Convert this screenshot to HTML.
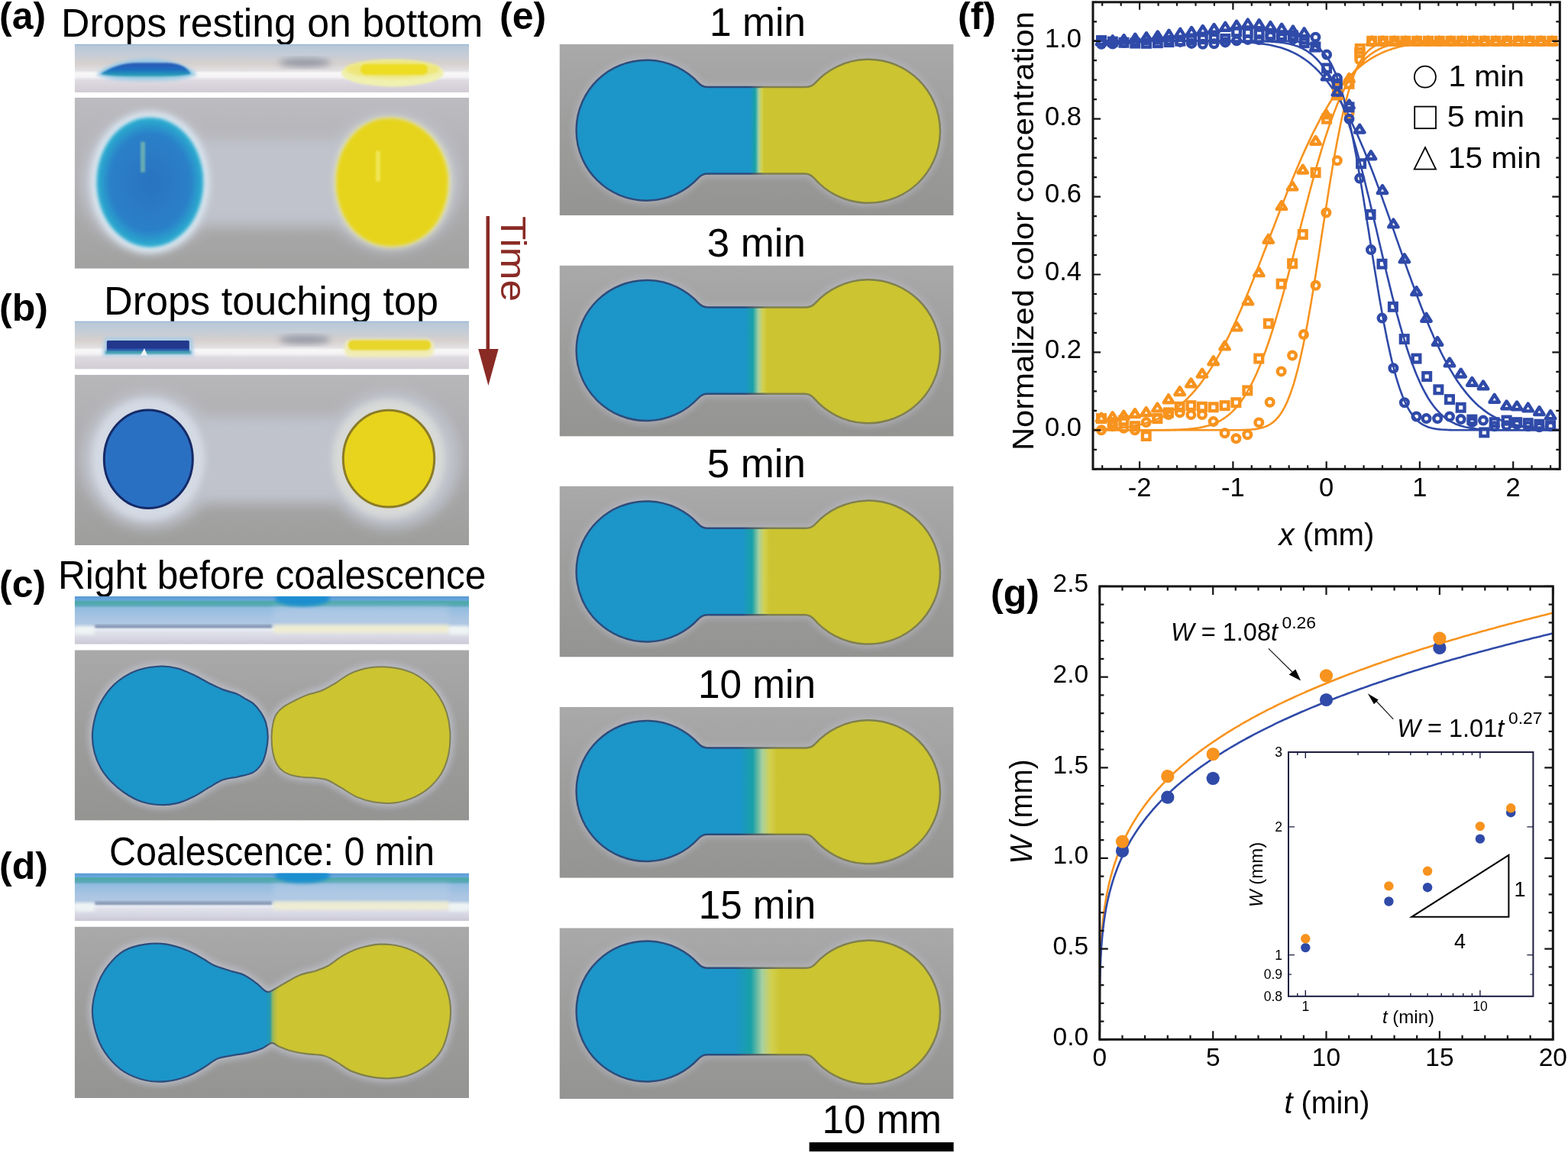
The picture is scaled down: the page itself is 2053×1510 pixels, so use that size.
<!DOCTYPE html>
<html><head><meta charset="utf-8"><title>Drop coalescence figure</title>
<style>html,body{margin:0;padding:0;background:#fff;overflow:hidden;width:2053px;height:1510px;} svg{display:block;} text{font-family:'Liberation Sans', Arial, sans-serif;}</style>
</head><body>
<svg width="2053" height="1510" viewBox="0 0 2053 1510">
<defs>
<filter id="bl05" x="-10%" y="-10%" width="120%" height="120%"><feGaussianBlur stdDeviation="0.7"/></filter>
<filter id="bl1" x="-20%" y="-20%" width="140%" height="140%"><feGaussianBlur stdDeviation="1"/></filter>
<filter id="bl2" x="-20%" y="-20%" width="140%" height="140%"><feGaussianBlur stdDeviation="2"/></filter>
<filter id="bl4" x="-30%" y="-30%" width="160%" height="160%"><feGaussianBlur stdDeviation="4"/></filter>
<filter id="bl8" x="-30%" y="-30%" width="160%" height="160%"><feGaussianBlur stdDeviation="8"/></filter>
<filter id="bl14" x="-40%" y="-40%" width="180%" height="180%"><feGaussianBlur stdDeviation="14"/></filter>
<linearGradient id="gBgE" x1="0" y1="0" x2="0" y2="1"><stop offset="0" stop-color="#a9a9aa"/><stop offset="0.5" stop-color="#9d9d9c"/><stop offset="1" stop-color="#949493"/></linearGradient>
<linearGradient id="gBgTa" x1="0" y1="0" x2="0" y2="1"><stop offset="0" stop-color="#bcbbc0"/><stop offset="0.5" stop-color="#b0afb2"/><stop offset="1" stop-color="#a1a1a0"/></linearGradient>
<linearGradient id="gBgTb" x1="0" y1="0" x2="0" y2="1"><stop offset="0" stop-color="#b7b6b9"/><stop offset="0.5" stop-color="#abaaad"/><stop offset="1" stop-color="#9e9e9c"/></linearGradient>
<linearGradient id="gSide" x1="0" y1="0" x2="0" y2="1">
<stop offset="0" stop-color="#b6c6d6"/><stop offset="0.18" stop-color="#c2ccd8"/>
<stop offset="0.4" stop-color="#d6d0ce"/><stop offset="0.55" stop-color="#e2e0e2"/>
<stop offset="0.6" stop-color="#f8f8f8"/><stop offset="0.68" stop-color="#f4f2f4"/><stop offset="0.75" stop-color="#dedae2"/>
<stop offset="1" stop-color="#d2ccd4"/></linearGradient>
<linearGradient id="gLensB" x1="0" y1="0" x2="0" y2="1">
<stop offset="0" stop-color="#2a58b4"/><stop offset="0.5" stop-color="#1e6cc0"/><stop offset="0.8" stop-color="#2290b8"/><stop offset="1" stop-color="#3aa8b8"/></linearGradient>
<clipPath id="clip57"><rect x="97.7" y="57.7" width="516.3" height="63.3"/></clipPath>
<clipPath id="clip420"><rect x="97.7" y="420.5" width="516.3" height="63.0"/></clipPath>
<linearGradient id="gSideC" x1="0" y1="0" x2="0" y2="1">
<stop offset="0" stop-color="#5a9ad4"/><stop offset="0.08" stop-color="#68a8dc"/>
<stop offset="0.11" stop-color="#4ca8a8"/><stop offset="0.19" stop-color="#5aaab8"/><stop offset="0.24" stop-color="#92bce0"/>
<stop offset="0.45" stop-color="#a8c4e2"/><stop offset="0.6" stop-color="#b2c8e2"/>
<stop offset="0.64" stop-color="#c8d4e6"/><stop offset="0.68" stop-color="#eef2f6"/><stop offset="0.74" stop-color="#e0e2ea"/>
<stop offset="0.85" stop-color="#d8d8e4"/><stop offset="1" stop-color="#ccc8d6"/></linearGradient>
<clipPath id="clip781"><rect x="97.7" y="781.0" width="516.3" height="62.799999999999955"/></clipPath>
<clipPath id="clip1143"><rect x="97.7" y="1143.4" width="516.3" height="62.59999999999991"/></clipPath>
<clipPath id="clip127"><rect x="97.7" y="127.7" width="516.3" height="224.10000000000002"/></clipPath>
<radialGradient id="gDropA" cx="0.5" cy="0.5" r="0.5"><stop offset="0" stop-color="#2a72c0"/><stop offset="0.75" stop-color="#2a80c8"/><stop offset="1" stop-color="#2ab0d0"/></radialGradient>
<clipPath id="clip490"><rect x="97.7" y="490.7" width="516.3" height="223.3"/></clipPath>
<clipPath id="eclip0"><rect x="732.5" y="58.0" width="516.0999999999999" height="224.0"/></clipPath>
<linearGradient id="gE0" gradientUnits="userSpaceOnUse" x1="982" y1="0" x2="1001" y2="0">
<stop offset="0" stop-color="#1c95c9"/><stop offset="0.35" stop-color="#18a0a8"/><stop offset="0.6" stop-color="#a8d0a0"/><stop offset="0.8" stop-color="#d2d050"/><stop offset="1" stop-color="#ccc430"/></linearGradient>
<linearGradient id="gE0s" gradientUnits="userSpaceOnUse" x1="982" y1="0" x2="1001" y2="0">
<stop offset="0" stop-color="#2c4c7c"/><stop offset="1" stop-color="#80804e"/></linearGradient>
<clipPath id="eclip1"><rect x="732.5" y="347.6" width="516.0999999999999" height="224.0"/></clipPath>
<linearGradient id="gE1" gradientUnits="userSpaceOnUse" x1="975" y1="0" x2="1005" y2="0">
<stop offset="0" stop-color="#1c95c9"/><stop offset="0.35" stop-color="#18a0a8"/><stop offset="0.6" stop-color="#a8d0a0"/><stop offset="0.8" stop-color="#d2d050"/><stop offset="1" stop-color="#ccc430"/></linearGradient>
<linearGradient id="gE1s" gradientUnits="userSpaceOnUse" x1="975" y1="0" x2="1005" y2="0">
<stop offset="0" stop-color="#2c4c7c"/><stop offset="1" stop-color="#80804e"/></linearGradient>
<clipPath id="eclip2"><rect x="732.5" y="636.6" width="516.0999999999999" height="224.0"/></clipPath>
<linearGradient id="gE2" gradientUnits="userSpaceOnUse" x1="972" y1="0" x2="1008" y2="0">
<stop offset="0" stop-color="#1c95c9"/><stop offset="0.35" stop-color="#18a0a8"/><stop offset="0.6" stop-color="#a8d0a0"/><stop offset="0.8" stop-color="#d2d050"/><stop offset="1" stop-color="#ccc430"/></linearGradient>
<linearGradient id="gE2s" gradientUnits="userSpaceOnUse" x1="972" y1="0" x2="1008" y2="0">
<stop offset="0" stop-color="#2c4c7c"/><stop offset="1" stop-color="#80804e"/></linearGradient>
<clipPath id="eclip3"><rect x="732.5" y="925.8" width="516.0999999999999" height="224.0"/></clipPath>
<linearGradient id="gE3" gradientUnits="userSpaceOnUse" x1="968" y1="0" x2="1018" y2="0">
<stop offset="0" stop-color="#1c95c9"/><stop offset="0.35" stop-color="#18a0a8"/><stop offset="0.6" stop-color="#a8d0a0"/><stop offset="0.8" stop-color="#d2d050"/><stop offset="1" stop-color="#ccc430"/></linearGradient>
<linearGradient id="gE3s" gradientUnits="userSpaceOnUse" x1="968" y1="0" x2="1018" y2="0">
<stop offset="0" stop-color="#2c4c7c"/><stop offset="1" stop-color="#80804e"/></linearGradient>
<clipPath id="eclip4"><rect x="732.5" y="1215.3" width="516.0999999999999" height="224.0"/></clipPath>
<linearGradient id="gE4" gradientUnits="userSpaceOnUse" x1="962" y1="0" x2="1022" y2="0">
<stop offset="0" stop-color="#1c95c9"/><stop offset="0.35" stop-color="#18a0a8"/><stop offset="0.6" stop-color="#a8d0a0"/><stop offset="0.8" stop-color="#d2d050"/><stop offset="1" stop-color="#ccc430"/></linearGradient>
<linearGradient id="gE4s" gradientUnits="userSpaceOnUse" x1="962" y1="0" x2="1022" y2="0">
<stop offset="0" stop-color="#2c4c7c"/><stop offset="1" stop-color="#80804e"/></linearGradient>
<linearGradient id="gD" gradientUnits="userSpaceOnUse" x1="348" y1="0" x2="364" y2="0"><stop offset="0" stop-color="#1c95c9"/><stop offset="0.35" stop-color="#2a9aac"/><stop offset="0.6" stop-color="#a0b858"/><stop offset="1" stop-color="#ccc430"/></linearGradient>
<linearGradient id="gDs" gradientUnits="userSpaceOnUse" x1="348" y1="0" x2="364" y2="0"><stop offset="0" stop-color="#2c4c7c"/><stop offset="1" stop-color="#80804e"/></linearGradient>
<clipPath id="clip851"><rect x="97.7" y="851.3" width="516.3" height="223.29999999999995"/></clipPath>
<clipPath id="clip1213"><rect x="97.7" y="1213.6" width="516.3" height="224.4000000000001"/></clipPath>
<clipPath id="fclip"><rect x="1431.0" y="2.8" width="611.3" height="611.5"/></clipPath>
<clipPath id="gclip"><rect x="1439.8" y="767.9" width="593.5" height="593.4"/></clipPath>
</defs>
<rect width="2053" height="1510" fill="#fff"/>
<text x="-1" y="37.5" font-size="50" text-anchor="start" font-weight="bold" font-style="normal" fill="#000" >(a)</text>
<text x="-1" y="420.4" font-size="50" text-anchor="start" font-weight="bold" font-style="normal" fill="#000" >(b)</text>
<text x="-1" y="782" font-size="50" text-anchor="start" font-weight="bold" font-style="normal" fill="#000" >(c)</text>
<text x="-1" y="1150.5" font-size="50" text-anchor="start" font-weight="bold" font-style="normal" fill="#000" >(d)</text>
<text x="654" y="38" font-size="50" text-anchor="start" font-weight="bold" font-style="normal" fill="#000" >(e)</text>
<text x="1254" y="38" font-size="50" text-anchor="start" font-weight="bold" font-style="normal" fill="#000" >(f)</text>
<text x="1297" y="794.4" font-size="50" text-anchor="start" font-weight="bold" font-style="normal" fill="#000" >(g)</text>
<text x="80" y="47.5" font-size="51" text-anchor="start" font-weight="normal" font-style="normal" fill="#000" textLength="552.5" lengthAdjust="spacingAndGlyphs" >Drops resting on bottom</text>
<text x="136" y="411.6" font-size="51" text-anchor="start" font-weight="normal" font-style="normal" fill="#000" textLength="438" lengthAdjust="spacingAndGlyphs" >Drops touching top</text>
<text x="76" y="770.5" font-size="51" text-anchor="start" font-weight="normal" font-style="normal" fill="#000" textLength="560.5" lengthAdjust="spacingAndGlyphs" >Right before coalescence</text>
<text x="143" y="1132.8" font-size="51" text-anchor="start" font-weight="normal" font-style="normal" fill="#000" textLength="426" lengthAdjust="spacingAndGlyphs" >Coalescence: 0 min</text>
<text x="929" y="46.9" font-size="51" text-anchor="start" font-weight="normal" font-style="normal" fill="#000" textLength="126" lengthAdjust="spacingAndGlyphs" >1 min</text>
<text x="925.7" y="335.9" font-size="51" text-anchor="start" font-weight="normal" font-style="normal" fill="#000" textLength="129.3" lengthAdjust="spacingAndGlyphs" >3 min</text>
<text x="925.7" y="624.9" font-size="51" text-anchor="start" font-weight="normal" font-style="normal" fill="#000" textLength="129.3" lengthAdjust="spacingAndGlyphs" >5 min</text>
<text x="914" y="913.9" font-size="51" text-anchor="start" font-weight="normal" font-style="normal" fill="#000" textLength="154" lengthAdjust="spacingAndGlyphs" >10 min</text>
<text x="914.7" y="1202.9" font-size="51" text-anchor="start" font-weight="normal" font-style="normal" fill="#000" textLength="153.6" lengthAdjust="spacingAndGlyphs" >15 min</text>
<text x="1076.6" y="1484" font-size="51" text-anchor="start" font-weight="normal" font-style="normal" fill="#000" textLength="156.4" lengthAdjust="spacingAndGlyphs" >10 mm</text>
<rect x="1059.6" y="1496" width="189" height="12" fill="#000"/>
<rect x="636.5" y="283" width="4.5" height="180" fill="#8a2a25"/>
<polygon points="626.2,457 652.6,457 639.4,505" fill="#8a2a25"/>
<text transform="translate(656.3,283) rotate(90)" font-size="46" fill="#8a2a25" textLength="112" lengthAdjust="spacingAndGlyphs">Time</text>
<g clip-path="url(#clip57)">
<rect x="97.7" y="57.7" width="516.3" height="63.3" fill="url(#gSide)"/>
<rect x="97.7" y="57.7" width="516.3" height="1.6" fill="#8ab4dc" opacity="0.7"/>
<ellipse cx="399" cy="82.2" rx="34" ry="5.5" fill="#7a8294" opacity="0.75" filter="url(#bl4)"/>
<path d="M126,97.7 C140,83.7 165,76.7 192,76.7 C220,76.7 245,83.7 258,97.7 C245,104.7 220,105.7 192,105.7 C165,105.7 140,104.7 126,97.7 Z" fill="#9ccbe6" filter="url(#bl2)"/>
<path d="M132,96.7 C145,87.7 160,82.2 180,82.2 L215,82.2 C235,82.2 245,87.7 250,96.7 C240,99.7 220,100.2 192,100.2 C165,100.2 142,99.7 132,96.7 Z" fill="url(#gLensB)" filter="url(#bl1)"/>
<ellipse cx="514" cy="95.7" rx="67" ry="17.7" fill="#f0f0b0" filter="url(#bl1)"/>
<ellipse cx="514" cy="90.7" rx="62" ry="12" fill="#eee67a" filter="url(#bl2)"/>
<rect x="472" y="84.2" width="88" height="13.5" rx="6.5" fill="#ecdc24" filter="url(#bl1)"/>
</g>
<g clip-path="url(#clip420)">
<rect x="97.7" y="420.5" width="516.3" height="63.0" fill="url(#gSide)"/>
<rect x="97.7" y="420.5" width="516.3" height="1.6" fill="#8ab4dc" opacity="0.7"/>
<ellipse cx="399" cy="445.0" rx="34" ry="5.5" fill="#7a8294" opacity="0.75" filter="url(#bl4)"/>
<path d="M134,466.5 L137,441.5 L252,441.5 L254,466.5 Z" fill="#a8cce6" opacity="0.9" filter="url(#bl2)"/>
<rect x="139.8" y="446.0" width="108" height="13.5" rx="1.5" fill="#22388c" filter="url(#bl05)"/>
<rect x="139.8" y="456.5" width="108" height="4" fill="#2a58b0" filter="url(#bl05)"/>
<rect x="138" y="459.5" width="112" height="4" fill="#3a9aac" filter="url(#bl1)"/>
<path d="M184,465.5 L189,456.0 L193,465.5 Z" fill="#eef2f2" filter="url(#bl05)"/>
<rect x="451" y="444.5" width="117" height="23" rx="9" fill="#f0ecb0" filter="url(#bl2)"/>
<rect x="456" y="445.5" width="108" height="13" rx="6" fill="#e8d62c" filter="url(#bl1)"/>
</g>
<g clip-path="url(#clip781)">
<rect x="97.7" y="781.0" width="516.3" height="62.799999999999955" fill="url(#gSideC)"/>
<rect x="358" y="795.0" width="230" height="22" fill="#b4cce6" opacity="0.6" filter="url(#bl4)"/>
<ellipse cx="396" cy="784.0" rx="36" ry="10" fill="#168cd0" opacity="0.9" filter="url(#bl2)"/>
<rect x="124" y="818.0" width="232" height="5" fill="#8c9cb8" filter="url(#bl1)"/>
<rect x="124" y="823.5" width="232" height="3" fill="#e4e8f2" filter="url(#bl1)"/>
<rect x="358" y="818.0" width="230" height="11" fill="#eeecd2" filter="url(#bl2)"/>
<rect x="97.7" y="820.0" width="26" height="11" fill="#eef4f4" filter="url(#bl2)"/>
<rect x="588" y="820.0" width="26" height="11" fill="#eef4f4" filter="url(#bl2)"/>
</g>
<g clip-path="url(#clip1143)">
<rect x="97.7" y="1143.4" width="516.3" height="62.59999999999991" fill="url(#gSideC)"/>
<rect x="358" y="1157.4" width="230" height="22" fill="#b4cce6" opacity="0.6" filter="url(#bl4)"/>
<ellipse cx="396" cy="1146.4" rx="36" ry="10" fill="#168cd0" opacity="0.9" filter="url(#bl2)"/>
<rect x="124" y="1180.4" width="232" height="5" fill="#8c9cb8" filter="url(#bl1)"/>
<rect x="124" y="1185.9" width="232" height="3" fill="#e4e8f2" filter="url(#bl1)"/>
<rect x="358" y="1180.4" width="230" height="11" fill="#eeecd2" filter="url(#bl2)"/>
<rect x="97.7" y="1182.4" width="26" height="11" fill="#eef4f4" filter="url(#bl2)"/>
<rect x="588" y="1182.4" width="26" height="11" fill="#eef4f4" filter="url(#bl2)"/>
</g>
<g clip-path="url(#clip127)">
<rect x="97.7" y="127.7" width="516.3" height="224.10000000000002" fill="url(#gBgTa)"/>
<g filter="url(#bl8)" fill="#c0c3cc"><circle cx="196" cy="238.7" r="90"/><circle cx="512" cy="238.7" r="90"/><rect x="196" y="181.7" width="316" height="114"/></g>
<ellipse cx="196.4" cy="238.7" rx="78" ry="93" fill="#dae6f0" filter="url(#bl4)"/>
<ellipse cx="196.4" cy="238.7" rx="70" ry="85" fill="url(#gDropA)" filter="url(#bl2)"/>
<rect x="184" y="185.7" width="6" height="40" fill="#74b8b0" opacity="0.8" filter="url(#bl1)"/>
<path d="M438,237.7 C438,187.7 470,153.7 510,153.7 C560,153.7 590,197.7 590,237.7 C590,287.7 560,323.7 512,323.7 C468,323.7 438,287.7 438,237.7 Z" fill="#e6e8c0" filter="url(#bl4)"/>
<path d="M440,237.7 C440,189.7 472,154.7 510,154.7 C556,154.7 587,197.7 587,237.7 C587,285.7 558,322.7 512,322.7 C470,322.7 440,285.7 440,237.7 Z" fill="#e6d41c" filter="url(#bl2)"/>
<rect x="492" y="197.7" width="6" height="40" fill="#f2e860" opacity="0.8" filter="url(#bl1)"/>
</g>
<g clip-path="url(#clip490)">
<rect x="97.7" y="490.7" width="516.3" height="223.3" fill="url(#gBgTb)"/>
<g filter="url(#bl8)" fill="#c0c3cc"><circle cx="196" cy="601.7" r="90"/><circle cx="512" cy="601.7" r="90"/><rect x="196" y="544.7" width="316" height="114"/></g>
<ellipse cx="194.3" cy="601.3" rx="74" ry="80" fill="#d4dae4" filter="url(#bl4)"/>
<ellipse cx="509" cy="600.7" rx="74" ry="78" fill="#d8dad8" filter="url(#bl4)"/>
<ellipse cx="194.3" cy="601.3" rx="58" ry="64.3" fill="#2a70c2" stroke="#142a68" stroke-width="3" filter="url(#bl05)"/>
<ellipse cx="509" cy="600.7" rx="59.7" ry="63.4" fill="#e8d41e" stroke="#8c7c28" stroke-width="3" filter="url(#bl05)"/>
</g>
<g clip-path="url(#eclip0)">
<rect x="732.5" y="58.0" width="516.0999999999999" height="224.0" fill="url(#gBgE)"/>
<path d="M914.7,108.8 A16,16 0 0 0 926.6,114.0 L1055.4,114.0 A16,16 0 0 0 1067.3,108.7 A94,94 0 1 1 1065.6,233.0 A16,16 0 0 0 1053.5,227.4 L926.4,227.4 A16,16 0 0 0 914.6,232.6 A92,92 0 1 1 914.7,108.8 Z" fill="none" stroke="#bcbcc6" stroke-width="8" filter="url(#bl4)" opacity="0.7"/>
<path d="M914.7,108.8 A16,16 0 0 0 926.6,114.0 L1055.4,114.0 A16,16 0 0 0 1067.3,108.7 A94,94 0 1 1 1065.6,233.0 A16,16 0 0 0 1053.5,227.4 L926.4,227.4 A16,16 0 0 0 914.6,232.6 A92,92 0 1 1 914.7,108.8 Z" fill="url(#gE0)" stroke="url(#gE0s)" stroke-width="2.5"/>
</g>
<g clip-path="url(#eclip1)">
<rect x="732.5" y="347.6" width="516.0999999999999" height="224.0" fill="url(#gBgE)"/>
<path d="M914.7,397.2 A16,16 0 0 0 926.6,402.4 L1055.4,402.4 A16,16 0 0 0 1067.3,397.1 A94,94 0 1 1 1065.6,521.4 A16,16 0 0 0 1053.5,515.8 L926.4,515.8 A16,16 0 0 0 914.6,521.0 A92,92 0 1 1 914.7,397.2 Z" fill="none" stroke="#bcbcc6" stroke-width="8" filter="url(#bl4)" opacity="0.7"/>
<path d="M914.7,397.2 A16,16 0 0 0 926.6,402.4 L1055.4,402.4 A16,16 0 0 0 1067.3,397.1 A94,94 0 1 1 1065.6,521.4 A16,16 0 0 0 1053.5,515.8 L926.4,515.8 A16,16 0 0 0 914.6,521.0 A92,92 0 1 1 914.7,397.2 Z" fill="url(#gE1)" stroke="url(#gE1s)" stroke-width="2.5"/>
</g>
<g clip-path="url(#eclip2)">
<rect x="732.5" y="636.6" width="516.0999999999999" height="224.0" fill="url(#gBgE)"/>
<path d="M914.7,686.6 A16,16 0 0 0 926.6,691.8 L1055.4,691.8 A16,16 0 0 0 1067.3,686.5 A94,94 0 1 1 1065.6,810.8 A16,16 0 0 0 1053.5,805.2 L926.4,805.2 A16,16 0 0 0 914.6,810.4 A92,92 0 1 1 914.7,686.6 Z" fill="none" stroke="#bcbcc6" stroke-width="8" filter="url(#bl4)" opacity="0.7"/>
<path d="M914.7,686.6 A16,16 0 0 0 926.6,691.8 L1055.4,691.8 A16,16 0 0 0 1067.3,686.5 A94,94 0 1 1 1065.6,810.8 A16,16 0 0 0 1053.5,805.2 L926.4,805.2 A16,16 0 0 0 914.6,810.4 A92,92 0 1 1 914.7,686.6 Z" fill="url(#gE2)" stroke="url(#gE2s)" stroke-width="2.5"/>
</g>
<g clip-path="url(#eclip3)">
<rect x="732.5" y="925.8" width="516.0999999999999" height="224.0" fill="url(#gBgE)"/>
<path d="M914.7,974.2 A16,16 0 0 0 926.6,979.4 L1055.4,979.4 A16,16 0 0 0 1067.3,974.1 A94,94 0 1 1 1065.6,1098.4 A16,16 0 0 0 1053.5,1092.8 L926.4,1092.8 A16,16 0 0 0 914.6,1098.0 A92,92 0 1 1 914.7,974.2 Z" fill="none" stroke="#bcbcc6" stroke-width="8" filter="url(#bl4)" opacity="0.7"/>
<path d="M914.7,974.2 A16,16 0 0 0 926.6,979.4 L1055.4,979.4 A16,16 0 0 0 1067.3,974.1 A94,94 0 1 1 1065.6,1098.4 A16,16 0 0 0 1053.5,1092.8 L926.4,1092.8 A16,16 0 0 0 914.6,1098.0 A92,92 0 1 1 914.7,974.2 Z" fill="url(#gE3)" stroke="url(#gE3s)" stroke-width="2.5"/>
</g>
<g clip-path="url(#eclip4)">
<rect x="732.5" y="1215.3" width="516.0999999999999" height="224.0" fill="url(#gBgE)"/>
<path d="M914.7,1262.6 A16,16 0 0 0 926.6,1267.8 L1055.4,1267.8 A16,16 0 0 0 1067.3,1262.5 A94,94 0 1 1 1065.6,1386.8 A16,16 0 0 0 1053.5,1381.2 L926.4,1381.2 A16,16 0 0 0 914.6,1386.4 A92,92 0 1 1 914.7,1262.6 Z" fill="none" stroke="#bcbcc6" stroke-width="8" filter="url(#bl4)" opacity="0.7"/>
<path d="M914.7,1262.6 A16,16 0 0 0 926.6,1267.8 L1055.4,1267.8 A16,16 0 0 0 1067.3,1262.5 A94,94 0 1 1 1065.6,1386.8 A16,16 0 0 0 1053.5,1381.2 L926.4,1381.2 A16,16 0 0 0 914.6,1386.4 A92,92 0 1 1 914.7,1262.6 Z" fill="url(#gE4)" stroke="url(#gE4s)" stroke-width="2.5"/>
</g>
<g clip-path="url(#clip851)">
<rect x="97.7" y="851.3" width="516.3" height="223.29999999999995" fill="url(#gBgE)"/>
<path d="M211.3,872.5 C219.4,872.3 225.2,873.4 232.1,875.3 C239.0,877.1 246.0,880.4 253.0,883.6 C260.0,886.9 267.4,891.5 273.9,894.8 C280.4,898.0 285.9,900.8 291.9,903.1 C297.9,905.4 305.3,906.8 310.0,908.7 C314.7,910.6 316.6,912.5 320.1,914.6 C323.7,916.7 327.8,918.2 331.3,921.2 C334.8,924.2 338.2,928.1 341.0,932.3 C343.8,936.5 346.4,940.9 348.0,946.2 C349.6,951.5 350.7,957.8 350.7,964.3 C350.7,970.8 349.4,979.2 348.0,985.2 C346.6,991.2 345.2,996.1 342.4,1000.5 C339.6,1004.9 336.4,1008.8 331.3,1011.6 C326.2,1014.4 318.6,1015.6 312.0,1017.2 C305.4,1018.8 298.2,1019.0 291.9,1021.3 C285.5,1023.6 280.4,1027.4 273.9,1031.1 C267.4,1034.8 260.0,1040.1 253.0,1043.6 C246.0,1047.1 239.5,1050.2 232.1,1051.9 C224.7,1053.6 216.6,1054.5 208.5,1054.0 C200.4,1053.5 191.1,1051.9 183.4,1049.2 C175.8,1046.5 168.8,1042.2 162.6,1038.0 C156.3,1033.8 151.0,1029.4 145.9,1024.1 C140.8,1018.8 135.7,1012.5 132.0,1006.0 C128.3,999.5 125.4,992.2 123.6,985.2 C121.8,978.2 120.9,971.3 120.9,964.3 C120.9,957.3 122.0,950.3 123.6,943.4 C125.2,936.5 127.1,929.5 130.6,922.6 C134.1,915.7 139.2,907.7 144.5,901.7 C149.8,895.7 156.1,890.6 162.6,886.4 C169.1,882.2 175.3,879.0 183.4,876.7 C191.5,874.4 203.2,872.7 211.3,872.5 Z" fill="none" stroke="#c4c6d2" stroke-width="9" filter="url(#bl4)" opacity="0.8"/>
<path d="M511.3,873.9 C520.6,874.9 531.0,877.4 539.1,880.9 C547.2,884.4 553.9,889.5 559.9,894.8 C565.9,900.1 571.0,906.4 575.2,912.9 C579.4,919.4 582.7,926.3 585.0,933.7 C587.3,941.1 588.7,948.8 589.2,957.4 C589.7,966.0 589.4,976.4 587.8,985.2 C586.2,994.0 583.3,1002.8 579.4,1010.2 C575.5,1017.6 570.1,1024.1 564.1,1029.7 C558.1,1035.3 550.9,1040.0 543.3,1043.6 C535.6,1047.2 527.0,1050.0 518.2,1051.2 C509.4,1052.4 499.0,1051.8 490.4,1050.5 C481.8,1049.2 474.2,1046.8 466.8,1043.6 C459.4,1040.4 452.4,1034.8 445.9,1031.1 C439.4,1027.4 433.6,1023.4 427.8,1021.3 C422.0,1019.2 416.1,1019.2 411.1,1018.6 C406.1,1018.0 402.5,1018.4 398.0,1017.9 C393.5,1017.4 388.5,1017.1 384.0,1015.8 C379.5,1014.5 374.6,1012.8 371.0,1010.2 C367.4,1007.7 364.6,1004.7 362.3,1000.5 C360.0,996.3 358.3,991.2 357.2,985.2 C356.1,979.2 355.5,970.8 355.6,964.3 C355.7,957.8 356.6,951.1 357.7,946.2 C358.8,941.3 359.6,938.6 361.9,935.1 C364.2,931.6 367.4,928.4 371.6,925.4 C375.8,922.4 381.8,919.5 386.9,917.0 C392.0,914.5 396.3,912.2 402.0,910.1 C407.7,908.0 414.8,907.0 420.9,904.5 C427.0,902.0 432.6,898.5 438.9,894.8 C445.1,891.1 451.0,885.7 458.4,882.3 C465.8,878.9 474.6,876.0 483.4,874.6 C492.2,873.2 502.0,872.9 511.3,873.9 Z" fill="none" stroke="#c4c6d2" stroke-width="9" filter="url(#bl4)" opacity="0.8"/>
<path d="M211.3,872.5 C219.4,872.3 225.2,873.4 232.1,875.3 C239.0,877.1 246.0,880.4 253.0,883.6 C260.0,886.9 267.4,891.5 273.9,894.8 C280.4,898.0 285.9,900.8 291.9,903.1 C297.9,905.4 305.3,906.8 310.0,908.7 C314.7,910.6 316.6,912.5 320.1,914.6 C323.7,916.7 327.8,918.2 331.3,921.2 C334.8,924.2 338.2,928.1 341.0,932.3 C343.8,936.5 346.4,940.9 348.0,946.2 C349.6,951.5 350.7,957.8 350.7,964.3 C350.7,970.8 349.4,979.2 348.0,985.2 C346.6,991.2 345.2,996.1 342.4,1000.5 C339.6,1004.9 336.4,1008.8 331.3,1011.6 C326.2,1014.4 318.6,1015.6 312.0,1017.2 C305.4,1018.8 298.2,1019.0 291.9,1021.3 C285.5,1023.6 280.4,1027.4 273.9,1031.1 C267.4,1034.8 260.0,1040.1 253.0,1043.6 C246.0,1047.1 239.5,1050.2 232.1,1051.9 C224.7,1053.6 216.6,1054.5 208.5,1054.0 C200.4,1053.5 191.1,1051.9 183.4,1049.2 C175.8,1046.5 168.8,1042.2 162.6,1038.0 C156.3,1033.8 151.0,1029.4 145.9,1024.1 C140.8,1018.8 135.7,1012.5 132.0,1006.0 C128.3,999.5 125.4,992.2 123.6,985.2 C121.8,978.2 120.9,971.3 120.9,964.3 C120.9,957.3 122.0,950.3 123.6,943.4 C125.2,936.5 127.1,929.5 130.6,922.6 C134.1,915.7 139.2,907.7 144.5,901.7 C149.8,895.7 156.1,890.6 162.6,886.4 C169.1,882.2 175.3,879.0 183.4,876.7 C191.5,874.4 203.2,872.7 211.3,872.5 Z" fill="#1c95c9" stroke="#2c4c7c" stroke-width="2.2"/>
<path d="M511.3,873.9 C520.6,874.9 531.0,877.4 539.1,880.9 C547.2,884.4 553.9,889.5 559.9,894.8 C565.9,900.1 571.0,906.4 575.2,912.9 C579.4,919.4 582.7,926.3 585.0,933.7 C587.3,941.1 588.7,948.8 589.2,957.4 C589.7,966.0 589.4,976.4 587.8,985.2 C586.2,994.0 583.3,1002.8 579.4,1010.2 C575.5,1017.6 570.1,1024.1 564.1,1029.7 C558.1,1035.3 550.9,1040.0 543.3,1043.6 C535.6,1047.2 527.0,1050.0 518.2,1051.2 C509.4,1052.4 499.0,1051.8 490.4,1050.5 C481.8,1049.2 474.2,1046.8 466.8,1043.6 C459.4,1040.4 452.4,1034.8 445.9,1031.1 C439.4,1027.4 433.6,1023.4 427.8,1021.3 C422.0,1019.2 416.1,1019.2 411.1,1018.6 C406.1,1018.0 402.5,1018.4 398.0,1017.9 C393.5,1017.4 388.5,1017.1 384.0,1015.8 C379.5,1014.5 374.6,1012.8 371.0,1010.2 C367.4,1007.7 364.6,1004.7 362.3,1000.5 C360.0,996.3 358.3,991.2 357.2,985.2 C356.1,979.2 355.5,970.8 355.6,964.3 C355.7,957.8 356.6,951.1 357.7,946.2 C358.8,941.3 359.6,938.6 361.9,935.1 C364.2,931.6 367.4,928.4 371.6,925.4 C375.8,922.4 381.8,919.5 386.9,917.0 C392.0,914.5 396.3,912.2 402.0,910.1 C407.7,908.0 414.8,907.0 420.9,904.5 C427.0,902.0 432.6,898.5 438.9,894.8 C445.1,891.1 451.0,885.7 458.4,882.3 C465.8,878.9 474.6,876.0 483.4,874.6 C492.2,873.2 502.0,872.9 511.3,873.9 Z" fill="#ccc430" stroke="#80804e" stroke-width="2"/>
</g>
<g clip-path="url(#clip1213)">
<rect x="97.7" y="1213.6" width="516.3" height="224.4000000000001" fill="url(#gBgE)"/>
<path d="M355.0,1297.9 C359.0,1296.3 365.4,1291.7 371.7,1288.2 C378.0,1284.7 385.7,1279.8 392.6,1277.0 C399.6,1274.2 407.1,1273.6 413.4,1271.5 C419.6,1269.4 424.3,1267.8 430.1,1264.5 C435.9,1261.2 441.7,1255.7 448.2,1252.0 C454.7,1248.3 461.0,1244.8 469.1,1242.3 C477.2,1239.8 487.6,1237.2 496.9,1236.7 C506.2,1236.2 515.4,1237.0 524.7,1239.5 C534.0,1242.0 544.4,1246.4 552.5,1252.0 C560.6,1257.6 567.8,1265.2 573.4,1272.9 C579.0,1280.6 583.1,1289.1 585.9,1297.9 C588.7,1306.7 590.1,1316.4 590.1,1325.7 C590.1,1335.0 588.0,1345.2 585.9,1353.5 C583.8,1361.8 582.0,1368.8 577.6,1375.8 C573.2,1382.8 567.1,1389.6 559.5,1395.2 C551.9,1400.8 542.1,1406.4 531.7,1409.2 C521.3,1412.0 508.5,1412.8 496.9,1411.9 C485.3,1411.0 471.4,1407.1 462.1,1403.6 C452.8,1400.1 447.6,1394.6 441.3,1391.1 C435.1,1387.6 431.6,1384.6 424.6,1382.7 C417.6,1380.8 407.1,1381.1 399.5,1379.9 C391.9,1378.8 384.5,1377.4 378.7,1375.8 C372.9,1374.2 368.7,1371.8 364.8,1370.2 C360.9,1368.6 359.1,1365.5 355.5,1366.0 C351.9,1366.5 348.4,1370.9 343.4,1373.0 C338.4,1375.1 332.2,1377.0 325.3,1378.6 C318.4,1380.2 308.6,1381.3 301.7,1382.7 C294.8,1384.1 289.4,1384.4 283.6,1386.9 C277.8,1389.5 273.2,1394.3 266.9,1398.0 C260.6,1401.7 254.1,1406.2 246.0,1409.2 C237.9,1412.2 227.5,1415.2 218.2,1416.1 C208.9,1417.0 199.7,1416.8 190.4,1414.7 C181.1,1412.6 170.7,1408.7 162.6,1403.6 C154.5,1398.5 147.5,1391.5 141.7,1384.1 C135.9,1376.7 131.3,1369.1 127.8,1359.1 C124.3,1349.1 120.9,1335.9 120.9,1324.3 C120.9,1312.7 124.3,1299.5 127.8,1289.5 C131.3,1279.5 135.9,1271.9 141.7,1264.5 C147.5,1257.1 154.5,1249.6 162.6,1245.0 C170.7,1240.4 181.1,1238.1 190.4,1236.7 C199.7,1235.3 208.9,1235.3 218.2,1236.7 C227.5,1238.1 237.9,1241.8 246.0,1245.0 C254.1,1248.2 261.1,1253.0 266.9,1256.2 C272.7,1259.5 275.0,1262.0 280.8,1264.5 C286.6,1267.0 295.2,1269.4 301.7,1271.5 C308.2,1273.6 313.9,1274.2 319.7,1277.0 C325.5,1279.8 331.8,1284.7 336.4,1288.2 C341.0,1291.7 344.5,1296.3 347.6,1297.9 C350.7,1299.5 351.0,1299.5 355.0,1297.9 Z" fill="none" stroke="#c4c6d2" stroke-width="9" filter="url(#bl4)" opacity="0.8"/>
<path d="M355.0,1297.9 C359.0,1296.3 365.4,1291.7 371.7,1288.2 C378.0,1284.7 385.7,1279.8 392.6,1277.0 C399.6,1274.2 407.1,1273.6 413.4,1271.5 C419.6,1269.4 424.3,1267.8 430.1,1264.5 C435.9,1261.2 441.7,1255.7 448.2,1252.0 C454.7,1248.3 461.0,1244.8 469.1,1242.3 C477.2,1239.8 487.6,1237.2 496.9,1236.7 C506.2,1236.2 515.4,1237.0 524.7,1239.5 C534.0,1242.0 544.4,1246.4 552.5,1252.0 C560.6,1257.6 567.8,1265.2 573.4,1272.9 C579.0,1280.6 583.1,1289.1 585.9,1297.9 C588.7,1306.7 590.1,1316.4 590.1,1325.7 C590.1,1335.0 588.0,1345.2 585.9,1353.5 C583.8,1361.8 582.0,1368.8 577.6,1375.8 C573.2,1382.8 567.1,1389.6 559.5,1395.2 C551.9,1400.8 542.1,1406.4 531.7,1409.2 C521.3,1412.0 508.5,1412.8 496.9,1411.9 C485.3,1411.0 471.4,1407.1 462.1,1403.6 C452.8,1400.1 447.6,1394.6 441.3,1391.1 C435.1,1387.6 431.6,1384.6 424.6,1382.7 C417.6,1380.8 407.1,1381.1 399.5,1379.9 C391.9,1378.8 384.5,1377.4 378.7,1375.8 C372.9,1374.2 368.7,1371.8 364.8,1370.2 C360.9,1368.6 359.1,1365.5 355.5,1366.0 C351.9,1366.5 348.4,1370.9 343.4,1373.0 C338.4,1375.1 332.2,1377.0 325.3,1378.6 C318.4,1380.2 308.6,1381.3 301.7,1382.7 C294.8,1384.1 289.4,1384.4 283.6,1386.9 C277.8,1389.5 273.2,1394.3 266.9,1398.0 C260.6,1401.7 254.1,1406.2 246.0,1409.2 C237.9,1412.2 227.5,1415.2 218.2,1416.1 C208.9,1417.0 199.7,1416.8 190.4,1414.7 C181.1,1412.6 170.7,1408.7 162.6,1403.6 C154.5,1398.5 147.5,1391.5 141.7,1384.1 C135.9,1376.7 131.3,1369.1 127.8,1359.1 C124.3,1349.1 120.9,1335.9 120.9,1324.3 C120.9,1312.7 124.3,1299.5 127.8,1289.5 C131.3,1279.5 135.9,1271.9 141.7,1264.5 C147.5,1257.1 154.5,1249.6 162.6,1245.0 C170.7,1240.4 181.1,1238.1 190.4,1236.7 C199.7,1235.3 208.9,1235.3 218.2,1236.7 C227.5,1238.1 237.9,1241.8 246.0,1245.0 C254.1,1248.2 261.1,1253.0 266.9,1256.2 C272.7,1259.5 275.0,1262.0 280.8,1264.5 C286.6,1267.0 295.2,1269.4 301.7,1271.5 C308.2,1273.6 313.9,1274.2 319.7,1277.0 C325.5,1279.8 331.8,1284.7 336.4,1288.2 C341.0,1291.7 344.5,1296.3 347.6,1297.9 C350.7,1299.5 351.0,1299.5 355.0,1297.9 Z" fill="url(#gD)" stroke="url(#gDs)" stroke-width="2.2"/>
</g>
<g clip-path="url(#fclip)">
<path d="M1431.0,562.6 L1433.0,562.6 L1435.1,562.5 L1437.1,562.4 L1439.2,562.3 L1441.2,562.2 L1443.2,562.1 L1445.3,562.0 L1447.3,561.9 L1449.3,561.8 L1451.4,561.7 L1453.4,561.6 L1455.5,561.4 L1457.5,561.3 L1459.5,561.1 L1461.6,560.9 L1463.6,560.7 L1465.6,560.5 L1467.7,560.3 L1469.7,560.1 L1471.8,559.8 L1473.8,559.6 L1475.8,559.3 L1477.9,559.0 L1479.9,558.6 L1481.9,558.3 L1484.0,557.9 L1486.0,557.6 L1488.1,557.1 L1490.1,556.7 L1492.1,556.3 L1494.2,555.8 L1496.2,555.3 L1498.2,554.7 L1500.3,554.1 L1502.3,553.5 L1504.4,552.9 L1506.4,552.2 L1508.4,551.5 L1510.5,550.7 L1512.5,549.9 L1514.5,549.1 L1516.6,548.2 L1518.6,547.3 L1520.7,546.3 L1522.7,545.3 L1524.7,544.2 L1526.8,543.1 L1528.8,542.0 L1530.8,540.7 L1532.9,539.5 L1534.9,538.1 L1537.0,536.7 L1539.0,535.3 L1541.0,533.8 L1543.1,532.2 L1545.1,530.5 L1547.1,528.8 L1549.2,527.0 L1551.2,525.2 L1553.3,523.3 L1555.3,521.3 L1557.3,519.2 L1559.4,517.1 L1561.4,514.8 L1563.4,512.5 L1565.5,510.2 L1567.5,507.7 L1569.6,505.2 L1571.6,502.6 L1573.6,499.9 L1575.7,497.1 L1577.7,494.2 L1579.7,491.3 L1581.8,488.2 L1583.8,485.1 L1585.9,481.9 L1587.9,478.6 L1589.9,475.2 L1592.0,471.8 L1594.0,468.2 L1596.1,464.6 L1598.1,460.9 L1600.1,457.1 L1602.2,453.3 L1604.2,449.3 L1606.2,445.3 L1608.3,441.2 L1610.3,437.0 L1612.4,432.7 L1614.4,428.4 L1616.4,424.0 L1618.5,419.5 L1620.5,415.0 L1622.5,410.4 L1624.6,405.7 L1626.6,400.9 L1628.7,396.2 L1630.7,391.3 L1632.7,386.4 L1634.8,381.5 L1636.8,376.4 L1638.8,371.4 L1640.9,366.3 L1642.9,361.2 L1645.0,356.0 L1647.0,350.8 L1649.0,345.6 L1651.1,340.4 L1653.1,335.1 L1655.1,329.8 L1657.2,324.5 L1659.2,319.2 L1661.3,313.9 L1663.3,308.5 L1665.3,303.2 L1667.4,297.9 L1669.4,292.6 L1671.4,287.3 L1673.5,282.0 L1675.5,276.7 L1677.6,271.5 L1679.6,266.3 L1681.6,261.1 L1683.7,255.9 L1685.7,250.8 L1687.7,245.7 L1689.8,240.7 L1691.8,235.6 L1693.9,230.7 L1695.9,225.8 L1697.9,220.9 L1700.0,216.2 L1702.0,211.4 L1704.0,206.7 L1706.1,202.1 L1708.1,197.6 L1710.2,193.1 L1712.2,188.7 L1714.2,184.4 L1716.3,180.1 L1718.3,175.9 L1720.3,171.8 L1722.4,167.8 L1724.4,163.8 L1726.5,160.0 L1728.5,156.2 L1730.5,152.5 L1732.6,148.9 L1734.6,145.3 L1736.7,141.9 L1738.7,138.5 L1740.7,135.2 L1742.8,132.0 L1744.8,128.9 L1746.8,125.8 L1748.9,122.9 L1750.9,120.0 L1753.0,117.2 L1755.0,114.5 L1757.0,111.9 L1759.1,109.4 L1761.1,106.9 L1763.1,104.6 L1765.2,102.3 L1767.2,100.0 L1769.3,97.9 L1771.3,95.8 L1773.3,93.8 L1775.4,91.9 L1777.4,90.1 L1779.4,88.3 L1781.5,86.6 L1783.5,84.9 L1785.6,83.3 L1787.6,81.8 L1789.6,80.4 L1791.7,79.0 L1793.7,77.6 L1795.7,76.4 L1797.8,75.1 L1799.8,74.0 L1801.9,72.9 L1803.9,71.8 L1805.9,70.8 L1808.0,69.8 L1810.0,68.9 L1812.0,68.0 L1814.1,67.2 L1816.1,66.4 L1818.2,65.6 L1820.2,64.9 L1822.2,64.2 L1824.3,63.6 L1826.3,63.0 L1828.3,62.4 L1830.4,61.8 L1832.4,61.3 L1834.5,60.8 L1836.5,60.4 L1838.5,60.0 L1840.6,59.5 L1842.6,59.2 L1844.6,58.8 L1846.7,58.5 L1848.7,58.1 L1850.8,57.8 L1852.8,57.5 L1854.8,57.3 L1856.9,57.0 L1858.9,56.8 L1860.9,56.6 L1863.0,56.4 L1865.0,56.2 L1867.1,56.0 L1869.1,55.8 L1871.1,55.7 L1873.2,55.5 L1875.2,55.4 L1877.2,55.3 L1879.3,55.2 L1881.3,55.1 L1883.4,55.0 L1885.4,54.9 L1887.4,54.8 L1889.5,54.7 L1891.5,54.6 L1893.6,54.5 L1895.6,54.5 L1897.6,54.4 L1899.7,54.4 L1901.7,54.3 L1903.7,54.3 L1905.8,54.2 L1907.8,54.2 L1909.9,54.1 L1911.9,54.1 L1913.9,54.1 L1916.0,54.1 L1918.0,54.0 L1920.0,54.0 L1922.1,54.0 L1924.1,54.0 L1926.2,53.9 L1928.2,53.9 L1930.2,53.9 L1932.3,53.9 L1934.3,53.9 L1936.3,53.9 L1938.4,53.9 L1940.4,53.9 L1942.5,53.8 L1944.5,53.8 L1946.5,53.8 L1948.6,53.8 L1950.6,53.8 L1952.6,53.8 L1954.7,53.8 L1956.7,53.8 L1958.8,53.8 L1960.8,53.8 L1962.8,53.8 L1964.9,53.8 L1966.9,53.8 L1968.9,53.8 L1971.0,53.8 L1973.0,53.8 L1975.1,53.8 L1977.1,53.8 L1979.1,53.8 L1981.2,53.8 L1983.2,53.8 L1985.2,53.8 L1987.3,53.8 L1989.3,53.8 L1991.4,53.8 L1993.4,53.8 L1995.4,53.8 L1997.5,53.8 L1999.5,53.8 L2001.5,53.8 L2003.6,53.8 L2005.6,53.8 L2007.7,53.8 L2009.7,53.8 L2011.7,53.8 L2013.8,53.8 L2015.8,53.8 L2017.8,53.8 L2019.9,53.8 L2021.9,53.8 L2024.0,53.8 L2026.0,53.8 L2028.0,53.8 L2030.1,53.8 L2032.1,53.8 L2034.1,53.8 L2036.2,53.8 L2038.2,53.8 L2040.3,53.8 L2042.3,53.8" stroke="#f7931e" stroke-width="2.6" fill="none"/>
<path d="M1431.0,563.3 L1433.0,563.3 L1435.1,563.3 L1437.1,563.3 L1439.2,563.3 L1441.2,563.3 L1443.2,563.3 L1445.3,563.3 L1447.3,563.3 L1449.3,563.3 L1451.4,563.3 L1453.4,563.3 L1455.5,563.3 L1457.5,563.3 L1459.5,563.3 L1461.6,563.3 L1463.6,563.3 L1465.6,563.3 L1467.7,563.3 L1469.7,563.3 L1471.8,563.3 L1473.8,563.3 L1475.8,563.3 L1477.9,563.3 L1479.9,563.3 L1481.9,563.3 L1484.0,563.3 L1486.0,563.3 L1488.1,563.3 L1490.1,563.3 L1492.1,563.3 L1494.2,563.3 L1496.2,563.3 L1498.2,563.3 L1500.3,563.3 L1502.3,563.3 L1504.4,563.3 L1506.4,563.3 L1508.4,563.3 L1510.5,563.3 L1512.5,563.3 L1514.5,563.3 L1516.6,563.2 L1518.6,563.2 L1520.7,563.2 L1522.7,563.2 L1524.7,563.2 L1526.8,563.1 L1528.8,563.1 L1530.8,563.1 L1532.9,563.0 L1534.9,563.0 L1537.0,562.9 L1539.0,562.9 L1541.0,562.8 L1543.1,562.7 L1545.1,562.6 L1547.1,562.5 L1549.2,562.4 L1551.2,562.3 L1553.3,562.1 L1555.3,562.0 L1557.3,561.8 L1559.4,561.6 L1561.4,561.4 L1563.4,561.2 L1565.5,560.9 L1567.5,560.6 L1569.6,560.3 L1571.6,559.9 L1573.6,559.6 L1575.7,559.1 L1577.7,558.6 L1579.7,558.1 L1581.8,557.6 L1583.8,556.9 L1585.9,556.3 L1587.9,555.5 L1589.9,554.7 L1592.0,553.8 L1594.0,552.9 L1596.1,551.8 L1598.1,550.7 L1600.1,549.5 L1602.2,548.2 L1604.2,546.8 L1606.2,545.3 L1608.3,543.7 L1610.3,542.0 L1612.4,540.1 L1614.4,538.1 L1616.4,536.0 L1618.5,533.8 L1620.5,531.4 L1622.5,528.8 L1624.6,526.1 L1626.6,523.3 L1628.7,520.2 L1630.7,517.1 L1632.7,513.7 L1634.8,510.2 L1636.8,506.4 L1638.8,502.6 L1640.9,498.5 L1642.9,494.2 L1645.0,489.7 L1647.0,485.1 L1649.0,480.3 L1651.1,475.2 L1653.1,470.0 L1655.1,464.6 L1657.2,459.0 L1659.2,453.3 L1661.3,447.3 L1663.3,441.2 L1665.3,434.9 L1667.4,428.4 L1669.4,421.8 L1671.4,415.0 L1673.5,408.0 L1675.5,400.9 L1677.6,393.7 L1679.6,386.4 L1681.6,379.0 L1683.7,371.4 L1685.7,363.8 L1687.7,356.0 L1689.8,348.2 L1691.8,340.4 L1693.9,332.5 L1695.9,324.5 L1697.9,316.5 L1700.0,308.5 L1702.0,300.6 L1704.0,292.6 L1706.1,284.6 L1708.1,276.7 L1710.2,268.9 L1712.2,261.1 L1714.2,253.3 L1716.3,245.7 L1718.3,238.1 L1720.3,230.7 L1722.4,223.4 L1724.4,216.2 L1726.5,209.1 L1728.5,202.1 L1730.5,195.3 L1732.6,188.7 L1734.6,182.2 L1736.7,175.9 L1738.7,169.8 L1740.7,163.8 L1742.8,158.1 L1744.8,152.5 L1746.8,147.1 L1748.9,141.9 L1750.9,136.8 L1753.0,132.0 L1755.0,127.4 L1757.0,122.9 L1759.1,118.6 L1761.1,114.5 L1763.1,110.7 L1765.2,106.9 L1767.2,103.4 L1769.3,100.0 L1771.3,96.9 L1773.3,93.8 L1775.4,91.0 L1777.4,88.3 L1779.4,85.7 L1781.5,83.3 L1783.5,81.1 L1785.6,79.0 L1787.6,77.0 L1789.6,75.1 L1791.7,73.4 L1793.7,71.8 L1795.7,70.3 L1797.8,68.9 L1799.8,67.6 L1801.9,66.4 L1803.9,65.3 L1805.9,64.2 L1808.0,63.3 L1810.0,62.4 L1812.0,61.6 L1814.1,60.8 L1816.1,60.2 L1818.2,59.5 L1820.2,59.0 L1822.2,58.5 L1824.3,58.0 L1826.3,57.5 L1828.3,57.2 L1830.4,56.8 L1832.4,56.5 L1834.5,56.2 L1836.5,55.9 L1838.5,55.7 L1840.6,55.5 L1842.6,55.3 L1844.6,55.1 L1846.7,55.0 L1848.7,54.8 L1850.8,54.7 L1852.8,54.6 L1854.8,54.5 L1856.9,54.4 L1858.9,54.3 L1860.9,54.2 L1863.0,54.2 L1865.0,54.1 L1867.1,54.1 L1869.1,54.0 L1871.1,54.0 L1873.2,54.0 L1875.2,53.9 L1877.2,53.9 L1879.3,53.9 L1881.3,53.9 L1883.4,53.9 L1885.4,53.8 L1887.4,53.8 L1889.5,53.8 L1891.5,53.8 L1893.6,53.8 L1895.6,53.8 L1897.6,53.8 L1899.7,53.8 L1901.7,53.8 L1903.7,53.8 L1905.8,53.8 L1907.8,53.8 L1909.9,53.8 L1911.9,53.8 L1913.9,53.8 L1916.0,53.8 L1918.0,53.8 L1920.0,53.8 L1922.1,53.8 L1924.1,53.8 L1926.2,53.8 L1928.2,53.8 L1930.2,53.8 L1932.3,53.8 L1934.3,53.8 L1936.3,53.8 L1938.4,53.8 L1940.4,53.8 L1942.5,53.8 L1944.5,53.8 L1946.5,53.8 L1948.6,53.8 L1950.6,53.8 L1952.6,53.8 L1954.7,53.8 L1956.7,53.8 L1958.8,53.8 L1960.8,53.8 L1962.8,53.8 L1964.9,53.8 L1966.9,53.8 L1968.9,53.8 L1971.0,53.8 L1973.0,53.8 L1975.1,53.8 L1977.1,53.8 L1979.1,53.8 L1981.2,53.8 L1983.2,53.8 L1985.2,53.8 L1987.3,53.8 L1989.3,53.8 L1991.4,53.8 L1993.4,53.8 L1995.4,53.8 L1997.5,53.8 L1999.5,53.8 L2001.5,53.8 L2003.6,53.8 L2005.6,53.8 L2007.7,53.8 L2009.7,53.8 L2011.7,53.8 L2013.8,53.8 L2015.8,53.8 L2017.8,53.8 L2019.9,53.8 L2021.9,53.8 L2024.0,53.8 L2026.0,53.8 L2028.0,53.8 L2030.1,53.8 L2032.1,53.8 L2034.1,53.8 L2036.2,53.8 L2038.2,53.8 L2040.3,53.8 L2042.3,53.8" stroke="#f7931e" stroke-width="2.6" fill="none"/>
<path d="M1431.0,563.3 L1433.0,563.3 L1435.1,563.3 L1437.1,563.3 L1439.2,563.3 L1441.2,563.3 L1443.2,563.3 L1445.3,563.3 L1447.3,563.3 L1449.3,563.3 L1451.4,563.3 L1453.4,563.3 L1455.5,563.3 L1457.5,563.3 L1459.5,563.3 L1461.6,563.3 L1463.6,563.3 L1465.6,563.3 L1467.7,563.3 L1469.7,563.3 L1471.8,563.3 L1473.8,563.3 L1475.8,563.3 L1477.9,563.3 L1479.9,563.3 L1481.9,563.3 L1484.0,563.3 L1486.0,563.3 L1488.1,563.3 L1490.1,563.3 L1492.1,563.3 L1494.2,563.3 L1496.2,563.3 L1498.2,563.3 L1500.3,563.3 L1502.3,563.3 L1504.4,563.3 L1506.4,563.3 L1508.4,563.3 L1510.5,563.3 L1512.5,563.3 L1514.5,563.3 L1516.6,563.3 L1518.6,563.3 L1520.7,563.3 L1522.7,563.3 L1524.7,563.3 L1526.8,563.3 L1528.8,563.3 L1530.8,563.3 L1532.9,563.3 L1534.9,563.3 L1537.0,563.3 L1539.0,563.3 L1541.0,563.3 L1543.1,563.3 L1545.1,563.3 L1547.1,563.3 L1549.2,563.3 L1551.2,563.3 L1553.3,563.3 L1555.3,563.3 L1557.3,563.3 L1559.4,563.3 L1561.4,563.3 L1563.4,563.3 L1565.5,563.3 L1567.5,563.3 L1569.6,563.3 L1571.6,563.3 L1573.6,563.3 L1575.7,563.3 L1577.7,563.3 L1579.7,563.3 L1581.8,563.3 L1583.8,563.3 L1585.9,563.3 L1587.9,563.3 L1589.9,563.3 L1592.0,563.3 L1594.0,563.3 L1596.1,563.3 L1598.1,563.3 L1600.1,563.3 L1602.2,563.3 L1604.2,563.3 L1606.2,563.3 L1608.3,563.3 L1610.3,563.3 L1612.4,563.3 L1614.4,563.3 L1616.4,563.3 L1618.5,563.3 L1620.5,563.2 L1622.5,563.2 L1624.6,563.2 L1626.6,563.1 L1628.7,563.1 L1630.7,563.0 L1632.7,562.9 L1634.8,562.8 L1636.8,562.7 L1638.8,562.5 L1640.9,562.3 L1642.9,562.1 L1645.0,561.8 L1647.0,561.5 L1649.0,561.1 L1651.1,560.6 L1653.1,560.1 L1655.1,559.4 L1657.2,558.6 L1659.2,557.8 L1661.3,556.7 L1663.3,555.5 L1665.3,554.1 L1667.4,552.5 L1669.4,550.7 L1671.4,548.7 L1673.5,546.3 L1675.5,543.7 L1677.6,540.7 L1679.6,537.4 L1681.6,533.8 L1683.7,529.7 L1685.7,525.2 L1687.7,520.2 L1689.8,514.8 L1691.8,508.9 L1693.9,502.6 L1695.9,495.6 L1697.9,488.2 L1700.0,480.3 L1702.0,471.8 L1704.0,462.8 L1706.1,453.3 L1708.1,443.2 L1710.2,432.7 L1712.2,421.8 L1714.2,410.4 L1716.3,398.6 L1718.3,386.4 L1720.3,373.9 L1722.4,361.2 L1724.4,348.2 L1726.5,335.1 L1728.5,321.9 L1730.5,308.5 L1732.6,295.2 L1734.6,282.0 L1736.7,268.9 L1738.7,255.9 L1740.7,243.2 L1742.8,230.7 L1744.8,218.5 L1746.8,206.7 L1748.9,195.3 L1750.9,184.4 L1753.0,173.9 L1755.0,163.8 L1757.0,154.3 L1759.1,145.3 L1761.1,136.8 L1763.1,128.9 L1765.2,121.5 L1767.2,114.5 L1769.3,108.2 L1771.3,102.3 L1773.3,96.9 L1775.4,91.9 L1777.4,87.4 L1779.4,83.3 L1781.5,79.7 L1783.5,76.4 L1785.6,73.4 L1787.6,70.8 L1789.6,68.4 L1791.7,66.4 L1793.7,64.6 L1795.7,63.0 L1797.8,61.6 L1799.8,60.4 L1801.9,59.3 L1803.9,58.5 L1805.9,57.7 L1808.0,57.0 L1810.0,56.5 L1812.0,56.0 L1814.1,55.6 L1816.1,55.3 L1818.2,55.0 L1820.2,54.8 L1822.2,54.6 L1824.3,54.4 L1826.3,54.3 L1828.3,54.2 L1830.4,54.1 L1832.4,54.0 L1834.5,54.0 L1836.5,53.9 L1838.5,53.9 L1840.6,53.9 L1842.6,53.8 L1844.6,53.8 L1846.7,53.8 L1848.7,53.8 L1850.8,53.8 L1852.8,53.8 L1854.8,53.8 L1856.9,53.8 L1858.9,53.8 L1860.9,53.8 L1863.0,53.8 L1865.0,53.8 L1867.1,53.8 L1869.1,53.8 L1871.1,53.8 L1873.2,53.8 L1875.2,53.8 L1877.2,53.8 L1879.3,53.8 L1881.3,53.8 L1883.4,53.8 L1885.4,53.8 L1887.4,53.8 L1889.5,53.8 L1891.5,53.8 L1893.6,53.8 L1895.6,53.8 L1897.6,53.8 L1899.7,53.8 L1901.7,53.8 L1903.7,53.8 L1905.8,53.8 L1907.8,53.8 L1909.9,53.8 L1911.9,53.8 L1913.9,53.8 L1916.0,53.8 L1918.0,53.8 L1920.0,53.8 L1922.1,53.8 L1924.1,53.8 L1926.2,53.8 L1928.2,53.8 L1930.2,53.8 L1932.3,53.8 L1934.3,53.8 L1936.3,53.8 L1938.4,53.8 L1940.4,53.8 L1942.5,53.8 L1944.5,53.8 L1946.5,53.8 L1948.6,53.8 L1950.6,53.8 L1952.6,53.8 L1954.7,53.8 L1956.7,53.8 L1958.8,53.8 L1960.8,53.8 L1962.8,53.8 L1964.9,53.8 L1966.9,53.8 L1968.9,53.8 L1971.0,53.8 L1973.0,53.8 L1975.1,53.8 L1977.1,53.8 L1979.1,53.8 L1981.2,53.8 L1983.2,53.8 L1985.2,53.8 L1987.3,53.8 L1989.3,53.8 L1991.4,53.8 L1993.4,53.8 L1995.4,53.8 L1997.5,53.8 L1999.5,53.8 L2001.5,53.8 L2003.6,53.8 L2005.6,53.8 L2007.7,53.8 L2009.7,53.8 L2011.7,53.8 L2013.8,53.8 L2015.8,53.8 L2017.8,53.8 L2019.9,53.8 L2021.9,53.8 L2024.0,53.8 L2026.0,53.8 L2028.0,53.8 L2030.1,53.8 L2032.1,53.8 L2034.1,53.8 L2036.2,53.8 L2038.2,53.8 L2040.3,53.8 L2042.3,53.8" stroke="#f7931e" stroke-width="2.6" fill="none"/>
<path d="M1431.0,53.8 L1433.0,53.8 L1435.1,53.8 L1437.1,53.8 L1439.2,53.8 L1441.2,53.8 L1443.2,53.8 L1445.3,53.8 L1447.3,53.8 L1449.3,53.8 L1451.4,53.8 L1453.4,53.8 L1455.5,53.8 L1457.5,53.8 L1459.5,53.8 L1461.6,53.8 L1463.6,53.8 L1465.6,53.8 L1467.7,53.8 L1469.7,53.8 L1471.8,53.8 L1473.8,53.8 L1475.8,53.8 L1477.9,53.8 L1479.9,53.8 L1481.9,53.8 L1484.0,53.8 L1486.0,53.8 L1488.1,53.8 L1490.1,53.8 L1492.1,53.8 L1494.2,53.8 L1496.2,53.8 L1498.2,53.8 L1500.3,53.8 L1502.3,53.8 L1504.4,53.8 L1506.4,53.8 L1508.4,53.8 L1510.5,53.8 L1512.5,53.8 L1514.5,53.8 L1516.6,53.8 L1518.6,53.8 L1520.7,53.8 L1522.7,53.8 L1524.7,53.8 L1526.8,53.8 L1528.8,53.8 L1530.8,53.8 L1532.9,53.8 L1534.9,53.8 L1537.0,53.8 L1539.0,53.8 L1541.0,53.8 L1543.1,53.8 L1545.1,53.8 L1547.1,53.8 L1549.2,53.8 L1551.2,53.8 L1553.3,53.8 L1555.3,53.8 L1557.3,53.8 L1559.4,53.8 L1561.4,53.8 L1563.4,53.8 L1565.5,53.8 L1567.5,53.8 L1569.6,53.8 L1571.6,53.8 L1573.6,53.8 L1575.7,53.9 L1577.7,53.9 L1579.7,53.9 L1581.8,53.9 L1583.8,53.9 L1585.9,53.9 L1587.9,53.9 L1589.9,54.0 L1592.0,54.0 L1594.0,54.0 L1596.1,54.0 L1598.1,54.1 L1600.1,54.1 L1602.2,54.1 L1604.2,54.2 L1606.2,54.2 L1608.3,54.3 L1610.3,54.3 L1612.4,54.4 L1614.4,54.4 L1616.4,54.5 L1618.5,54.6 L1620.5,54.7 L1622.5,54.8 L1624.6,54.8 L1626.6,55.0 L1628.7,55.1 L1630.7,55.2 L1632.7,55.3 L1634.8,55.5 L1636.8,55.6 L1638.8,55.8 L1640.9,56.0 L1642.9,56.1 L1645.0,56.4 L1647.0,56.6 L1649.0,56.8 L1651.1,57.1 L1653.1,57.4 L1655.1,57.6 L1657.2,58.0 L1659.2,58.3 L1661.3,58.7 L1663.3,59.1 L1665.3,59.5 L1667.4,59.9 L1669.4,60.4 L1671.4,60.9 L1673.5,61.5 L1675.5,62.0 L1677.6,62.6 L1679.6,63.3 L1681.6,64.0 L1683.7,64.7 L1685.7,65.5 L1687.7,66.3 L1689.8,67.2 L1691.8,68.1 L1693.9,69.1 L1695.9,70.1 L1697.9,71.2 L1700.0,72.3 L1702.0,73.5 L1704.0,74.8 L1706.1,76.1 L1708.1,77.5 L1710.2,79.0 L1712.2,80.5 L1714.2,82.1 L1716.3,83.8 L1718.3,85.6 L1720.3,87.4 L1722.4,89.3 L1724.4,91.3 L1726.5,93.4 L1728.5,95.6 L1730.5,97.8 L1732.6,100.2 L1734.6,102.7 L1736.7,105.2 L1738.7,107.8 L1740.7,110.6 L1742.8,113.4 L1744.8,116.3 L1746.8,119.3 L1748.9,122.5 L1750.9,125.7 L1753.0,129.0 L1755.0,132.5 L1757.0,136.0 L1759.1,139.6 L1761.1,143.4 L1763.1,147.2 L1765.2,151.1 L1767.2,155.2 L1769.3,159.3 L1771.3,163.6 L1773.3,167.9 L1775.4,172.3 L1777.4,176.8 L1779.4,181.5 L1781.5,186.2 L1783.5,191.0 L1785.6,195.8 L1787.6,200.8 L1789.6,205.8 L1791.7,211.0 L1793.7,216.2 L1795.7,221.4 L1797.8,226.7 L1799.8,232.1 L1801.9,237.6 L1803.9,243.1 L1805.9,248.7 L1808.0,254.3 L1810.0,259.9 L1812.0,265.6 L1814.1,271.4 L1816.1,277.1 L1818.2,282.9 L1820.2,288.7 L1822.2,294.5 L1824.3,300.4 L1826.3,306.2 L1828.3,312.1 L1830.4,317.9 L1832.4,323.7 L1834.5,329.5 L1836.5,335.4 L1838.5,341.1 L1840.6,346.9 L1842.6,352.6 L1844.6,358.3 L1846.7,363.9 L1848.7,369.5 L1850.8,375.1 L1852.8,380.6 L1854.8,386.0 L1856.9,391.4 L1858.9,396.7 L1860.9,402.0 L1863.0,407.2 L1865.0,412.3 L1867.1,417.3 L1869.1,422.2 L1871.1,427.1 L1873.2,431.9 L1875.2,436.6 L1877.2,441.2 L1879.3,445.7 L1881.3,450.1 L1883.4,454.4 L1885.4,458.6 L1887.4,462.7 L1889.5,466.8 L1891.5,470.7 L1893.6,474.5 L1895.6,478.2 L1897.6,481.8 L1899.7,485.3 L1901.7,488.7 L1903.7,492.1 L1905.8,495.3 L1907.8,498.4 L1909.9,501.4 L1911.9,504.3 L1913.9,507.1 L1916.0,509.8 L1918.0,512.4 L1920.0,514.9 L1922.1,517.4 L1924.1,519.7 L1926.2,522.0 L1928.2,524.1 L1930.2,526.2 L1932.3,528.2 L1934.3,530.1 L1936.3,531.9 L1938.4,533.6 L1940.4,535.3 L1942.5,536.9 L1944.5,538.4 L1946.5,539.9 L1948.6,541.3 L1950.6,542.6 L1952.6,543.8 L1954.7,545.0 L1956.7,546.1 L1958.8,547.2 L1960.8,548.2 L1962.8,549.2 L1964.9,550.1 L1966.9,551.0 L1968.9,551.8 L1971.0,552.5 L1973.0,553.3 L1975.1,553.9 L1977.1,554.6 L1979.1,555.2 L1981.2,555.8 L1983.2,556.3 L1985.2,556.8 L1987.3,557.3 L1989.3,557.7 L1991.4,558.1 L1993.4,558.5 L1995.4,558.9 L1997.5,559.2 L1999.5,559.5 L2001.5,559.8 L2003.6,560.1 L2005.6,560.3 L2007.7,560.6 L2009.7,560.8 L2011.7,561.0 L2013.8,561.2 L2015.8,561.4 L2017.8,561.5 L2019.9,561.7 L2021.9,561.8 L2024.0,561.9 L2026.0,562.1 L2028.0,562.2 L2030.1,562.3 L2032.1,562.4 L2034.1,562.5 L2036.2,562.5 L2038.2,562.6 L2040.3,562.7 L2042.3,562.7" stroke="#2f4aa8" stroke-width="2.6" fill="none"/>
<path d="M1431.0,53.8 L1433.0,53.8 L1435.1,53.8 L1437.1,53.8 L1439.2,53.8 L1441.2,53.8 L1443.2,53.8 L1445.3,53.8 L1447.3,53.8 L1449.3,53.8 L1451.4,53.8 L1453.4,53.8 L1455.5,53.8 L1457.5,53.8 L1459.5,53.8 L1461.6,53.8 L1463.6,53.8 L1465.6,53.8 L1467.7,53.8 L1469.7,53.8 L1471.8,53.8 L1473.8,53.8 L1475.8,53.8 L1477.9,53.8 L1479.9,53.8 L1481.9,53.8 L1484.0,53.8 L1486.0,53.8 L1488.1,53.8 L1490.1,53.8 L1492.1,53.8 L1494.2,53.8 L1496.2,53.8 L1498.2,53.8 L1500.3,53.8 L1502.3,53.8 L1504.4,53.8 L1506.4,53.8 L1508.4,53.8 L1510.5,53.8 L1512.5,53.8 L1514.5,53.8 L1516.6,53.8 L1518.6,53.8 L1520.7,53.8 L1522.7,53.8 L1524.7,53.8 L1526.8,53.8 L1528.8,53.8 L1530.8,53.8 L1532.9,53.8 L1534.9,53.8 L1537.0,53.8 L1539.0,53.8 L1541.0,53.8 L1543.1,53.8 L1545.1,53.8 L1547.1,53.8 L1549.2,53.8 L1551.2,53.8 L1553.3,53.8 L1555.3,53.8 L1557.3,53.8 L1559.4,53.8 L1561.4,53.8 L1563.4,53.8 L1565.5,53.8 L1567.5,53.8 L1569.6,53.8 L1571.6,53.8 L1573.6,53.8 L1575.7,53.8 L1577.7,53.8 L1579.7,53.8 L1581.8,53.8 L1583.8,53.8 L1585.9,53.8 L1587.9,53.8 L1589.9,53.8 L1592.0,53.8 L1594.0,53.8 L1596.1,53.8 L1598.1,53.8 L1600.1,53.8 L1602.2,53.8 L1604.2,53.8 L1606.2,53.8 L1608.3,53.8 L1610.3,53.8 L1612.4,53.8 L1614.4,53.8 L1616.4,53.8 L1618.5,53.8 L1620.5,53.8 L1622.5,53.8 L1624.6,53.8 L1626.6,53.8 L1628.7,53.8 L1630.7,53.8 L1632.7,53.8 L1634.8,53.9 L1636.8,53.9 L1638.8,53.9 L1640.9,53.9 L1642.9,53.9 L1645.0,54.0 L1647.0,54.0 L1649.0,54.0 L1651.1,54.1 L1653.1,54.1 L1655.1,54.2 L1657.2,54.3 L1659.2,54.4 L1661.3,54.4 L1663.3,54.5 L1665.3,54.7 L1667.4,54.8 L1669.4,55.0 L1671.4,55.1 L1673.5,55.3 L1675.5,55.5 L1677.6,55.8 L1679.6,56.0 L1681.6,56.3 L1683.7,56.7 L1685.7,57.1 L1687.7,57.5 L1689.8,57.9 L1691.8,58.5 L1693.9,59.0 L1695.9,59.7 L1697.9,60.3 L1700.0,61.1 L1702.0,61.9 L1704.0,62.9 L1706.1,63.9 L1708.1,65.0 L1710.2,66.2 L1712.2,67.5 L1714.2,68.9 L1716.3,70.4 L1718.3,72.1 L1720.3,73.9 L1722.4,75.8 L1724.4,77.9 L1726.5,80.1 L1728.5,82.5 L1730.5,85.1 L1732.6,87.8 L1734.6,90.7 L1736.7,93.8 L1738.7,97.1 L1740.7,100.6 L1742.8,104.4 L1744.8,108.3 L1746.8,112.4 L1748.9,116.8 L1750.9,121.3 L1753.0,126.1 L1755.0,131.1 L1757.0,136.4 L1759.1,141.9 L1761.1,147.6 L1763.1,153.5 L1765.2,159.6 L1767.2,166.0 L1769.3,172.6 L1771.3,179.3 L1773.3,186.3 L1775.4,193.5 L1777.4,200.9 L1779.4,208.4 L1781.5,216.2 L1783.5,224.0 L1785.6,232.0 L1787.6,240.2 L1789.6,248.5 L1791.7,256.8 L1793.7,265.3 L1795.7,273.9 L1797.8,282.5 L1799.8,291.1 L1801.9,299.8 L1803.9,308.5 L1805.9,317.3 L1808.0,326.0 L1810.0,334.6 L1812.0,343.2 L1814.1,351.8 L1816.1,360.3 L1818.2,368.6 L1820.2,376.9 L1822.2,385.1 L1824.3,393.1 L1826.3,400.9 L1828.3,408.7 L1830.4,416.2 L1832.4,423.6 L1834.5,430.8 L1836.5,437.8 L1838.5,444.5 L1840.6,451.1 L1842.6,457.5 L1844.6,463.6 L1846.7,469.5 L1848.7,475.2 L1850.8,480.7 L1852.8,486.0 L1854.8,491.0 L1856.9,495.8 L1858.9,500.3 L1860.9,504.7 L1863.0,508.8 L1865.0,512.7 L1867.1,516.5 L1869.1,520.0 L1871.1,523.3 L1873.2,526.4 L1875.2,529.3 L1877.2,532.0 L1879.3,534.6 L1881.3,537.0 L1883.4,539.2 L1885.4,541.3 L1887.4,543.2 L1889.5,545.0 L1891.5,546.7 L1893.6,548.2 L1895.6,549.6 L1897.6,550.9 L1899.7,552.1 L1901.7,553.2 L1903.7,554.2 L1905.8,555.2 L1907.8,556.0 L1909.9,556.8 L1911.9,557.4 L1913.9,558.1 L1916.0,558.6 L1918.0,559.2 L1920.0,559.6 L1922.1,560.0 L1924.1,560.4 L1926.2,560.8 L1928.2,561.1 L1930.2,561.3 L1932.3,561.6 L1934.3,561.8 L1936.3,562.0 L1938.4,562.1 L1940.4,562.3 L1942.5,562.4 L1944.5,562.6 L1946.5,562.7 L1948.6,562.7 L1950.6,562.8 L1952.6,562.9 L1954.7,563.0 L1956.7,563.0 L1958.8,563.1 L1960.8,563.1 L1962.8,563.1 L1964.9,563.2 L1966.9,563.2 L1968.9,563.2 L1971.0,563.2 L1973.0,563.2 L1975.1,563.3 L1977.1,563.3 L1979.1,563.3 L1981.2,563.3 L1983.2,563.3 L1985.2,563.3 L1987.3,563.3 L1989.3,563.3 L1991.4,563.3 L1993.4,563.3 L1995.4,563.3 L1997.5,563.3 L1999.5,563.3 L2001.5,563.3 L2003.6,563.3 L2005.6,563.3 L2007.7,563.3 L2009.7,563.3 L2011.7,563.3 L2013.8,563.3 L2015.8,563.3 L2017.8,563.3 L2019.9,563.3 L2021.9,563.3 L2024.0,563.3 L2026.0,563.3 L2028.0,563.3 L2030.1,563.3 L2032.1,563.3 L2034.1,563.3 L2036.2,563.3 L2038.2,563.3 L2040.3,563.3 L2042.3,563.3" stroke="#2f4aa8" stroke-width="2.6" fill="none"/>
<path d="M1431.0,53.8 L1433.0,53.8 L1435.1,53.8 L1437.1,53.8 L1439.2,53.8 L1441.2,53.8 L1443.2,53.8 L1445.3,53.8 L1447.3,53.8 L1449.3,53.8 L1451.4,53.8 L1453.4,53.8 L1455.5,53.8 L1457.5,53.8 L1459.5,53.8 L1461.6,53.8 L1463.6,53.8 L1465.6,53.8 L1467.7,53.8 L1469.7,53.8 L1471.8,53.8 L1473.8,53.8 L1475.8,53.8 L1477.9,53.8 L1479.9,53.8 L1481.9,53.8 L1484.0,53.8 L1486.0,53.8 L1488.1,53.8 L1490.1,53.8 L1492.1,53.8 L1494.2,53.8 L1496.2,53.8 L1498.2,53.8 L1500.3,53.8 L1502.3,53.8 L1504.4,53.8 L1506.4,53.8 L1508.4,53.8 L1510.5,53.8 L1512.5,53.8 L1514.5,53.8 L1516.6,53.8 L1518.6,53.8 L1520.7,53.8 L1522.7,53.8 L1524.7,53.8 L1526.8,53.8 L1528.8,53.8 L1530.8,53.8 L1532.9,53.8 L1534.9,53.8 L1537.0,53.8 L1539.0,53.8 L1541.0,53.8 L1543.1,53.8 L1545.1,53.8 L1547.1,53.8 L1549.2,53.8 L1551.2,53.8 L1553.3,53.8 L1555.3,53.8 L1557.3,53.8 L1559.4,53.8 L1561.4,53.8 L1563.4,53.8 L1565.5,53.8 L1567.5,53.8 L1569.6,53.8 L1571.6,53.8 L1573.6,53.8 L1575.7,53.8 L1577.7,53.8 L1579.7,53.8 L1581.8,53.8 L1583.8,53.8 L1585.9,53.8 L1587.9,53.8 L1589.9,53.8 L1592.0,53.8 L1594.0,53.8 L1596.1,53.8 L1598.1,53.8 L1600.1,53.8 L1602.2,53.8 L1604.2,53.8 L1606.2,53.8 L1608.3,53.8 L1610.3,53.8 L1612.4,53.8 L1614.4,53.8 L1616.4,53.8 L1618.5,53.8 L1620.5,53.8 L1622.5,53.8 L1624.6,53.8 L1626.6,53.8 L1628.7,53.8 L1630.7,53.8 L1632.7,53.8 L1634.8,53.8 L1636.8,53.8 L1638.8,53.8 L1640.9,53.8 L1642.9,53.8 L1645.0,53.8 L1647.0,53.8 L1649.0,53.8 L1651.1,53.8 L1653.1,53.8 L1655.1,53.8 L1657.2,53.8 L1659.2,53.8 L1661.3,53.8 L1663.3,53.8 L1665.3,53.8 L1667.4,53.8 L1669.4,53.8 L1671.4,53.8 L1673.5,53.8 L1675.5,53.8 L1677.6,53.8 L1679.6,53.9 L1681.6,53.9 L1683.7,53.9 L1685.7,54.0 L1687.7,54.0 L1689.8,54.1 L1691.8,54.2 L1693.9,54.3 L1695.9,54.4 L1697.9,54.5 L1700.0,54.7 L1702.0,54.9 L1704.0,55.2 L1706.1,55.5 L1708.1,55.8 L1710.2,56.2 L1712.2,56.7 L1714.2,57.3 L1716.3,58.0 L1718.3,58.8 L1720.3,59.7 L1722.4,60.8 L1724.4,62.0 L1726.5,63.4 L1728.5,65.0 L1730.5,66.8 L1732.6,68.9 L1734.6,71.2 L1736.7,73.8 L1738.7,76.7 L1740.7,80.0 L1742.8,83.6 L1744.8,87.6 L1746.8,92.0 L1748.9,96.8 L1750.9,102.0 L1753.0,107.7 L1755.0,113.9 L1757.0,120.6 L1759.1,127.7 L1761.1,135.4 L1763.1,143.5 L1765.2,152.2 L1767.2,161.3 L1769.3,170.9 L1771.3,181.0 L1773.3,191.6 L1775.4,202.5 L1777.4,213.8 L1779.4,225.5 L1781.5,237.5 L1783.5,249.8 L1785.6,262.3 L1787.6,275.0 L1789.6,287.9 L1791.7,300.8 L1793.7,313.7 L1795.7,326.7 L1797.8,339.5 L1799.8,352.2 L1801.9,364.8 L1803.9,377.1 L1805.9,389.2 L1808.0,400.9 L1810.0,412.4 L1812.0,423.4 L1814.1,434.0 L1816.1,444.2 L1818.2,453.9 L1820.2,463.1 L1822.2,471.9 L1824.3,480.1 L1826.3,487.9 L1828.3,495.1 L1830.4,501.9 L1832.4,508.2 L1834.5,514.0 L1836.5,519.3 L1838.5,524.2 L1840.6,528.7 L1842.6,532.7 L1844.6,536.4 L1846.7,539.7 L1848.7,542.7 L1850.8,545.4 L1852.8,547.8 L1854.8,549.9 L1856.9,551.8 L1858.9,553.4 L1860.9,554.8 L1863.0,556.1 L1865.0,557.2 L1867.1,558.1 L1869.1,559.0 L1871.1,559.7 L1873.2,560.3 L1875.2,560.8 L1877.2,561.2 L1879.3,561.6 L1881.3,561.9 L1883.4,562.1 L1885.4,562.4 L1887.4,562.5 L1889.5,562.7 L1891.5,562.8 L1893.6,562.9 L1895.6,563.0 L1897.6,563.1 L1899.7,563.1 L1901.7,563.2 L1903.7,563.2 L1905.8,563.2 L1907.8,563.3 L1909.9,563.3 L1911.9,563.3 L1913.9,563.3 L1916.0,563.3 L1918.0,563.3 L1920.0,563.3 L1922.1,563.3 L1924.1,563.3 L1926.2,563.3 L1928.2,563.3 L1930.2,563.3 L1932.3,563.3 L1934.3,563.3 L1936.3,563.3 L1938.4,563.3 L1940.4,563.3 L1942.5,563.3 L1944.5,563.3 L1946.5,563.3 L1948.6,563.3 L1950.6,563.3 L1952.6,563.3 L1954.7,563.3 L1956.7,563.3 L1958.8,563.3 L1960.8,563.3 L1962.8,563.3 L1964.9,563.3 L1966.9,563.3 L1968.9,563.3 L1971.0,563.3 L1973.0,563.3 L1975.1,563.3 L1977.1,563.3 L1979.1,563.3 L1981.2,563.3 L1983.2,563.3 L1985.2,563.3 L1987.3,563.3 L1989.3,563.3 L1991.4,563.3 L1993.4,563.3 L1995.4,563.3 L1997.5,563.3 L1999.5,563.3 L2001.5,563.3 L2003.6,563.3 L2005.6,563.3 L2007.7,563.3 L2009.7,563.3 L2011.7,563.3 L2013.8,563.3 L2015.8,563.3 L2017.8,563.3 L2019.9,563.3 L2021.9,563.3 L2024.0,563.3 L2026.0,563.3 L2028.0,563.3 L2030.1,563.3 L2032.1,563.3 L2034.1,563.3 L2036.2,563.3 L2038.2,563.3 L2040.3,563.3 L2042.3,563.3" stroke="#2f4aa8" stroke-width="2.6" fill="none"/>
<g fill="none" stroke="#f7931e" stroke-width="4.4"><polygon points="1442.0,541.8 1448.2,551.6 1435.8,551.6" stroke-linejoin="round"/><polygon points="1456.7,540.3 1462.9,550.1 1450.5,550.1" stroke-linejoin="round"/><polygon points="1471.3,538.8 1477.5,548.6 1465.1,548.6" stroke-linejoin="round"/><polygon points="1486.0,536.2 1492.2,546.0 1479.8,546.0" stroke-linejoin="round"/><polygon points="1500.7,534.2 1506.9,544.0 1494.5,544.0" stroke-linejoin="round"/><polygon points="1515.4,528.6 1521.6,538.4 1509.2,538.4" stroke-linejoin="round"/><polygon points="1530.0,517.4 1536.2,527.2 1523.8,527.2" stroke-linejoin="round"/><polygon points="1544.7,507.2 1550.9,517.0 1538.5,517.0" stroke-linejoin="round"/><polygon points="1559.4,496.5 1565.6,506.3 1553.2,506.3" stroke-linejoin="round"/><polygon points="1574.0,483.7 1580.2,493.5 1567.8,493.5" stroke-linejoin="round"/><polygon points="1588.7,467.4 1594.9,477.2 1582.5,477.2" stroke-linejoin="round"/><polygon points="1603.6,447.6 1609.8,457.4 1597.4,457.4" stroke-linejoin="round"/><polygon points="1619.3,422.6 1625.5,432.4 1613.1,432.4" stroke-linejoin="round"/><polygon points="1634.0,388.5 1640.2,398.3 1627.8,398.3" stroke-linejoin="round"/><polygon points="1648.3,351.3 1654.5,361.1 1642.1,361.1" stroke-linejoin="round"/><polygon points="1660.8,307.9 1667.0,317.7 1654.6,317.7" stroke-linejoin="round"/><polygon points="1678.0,264.1 1684.2,273.9 1671.8,273.9" stroke-linejoin="round"/><polygon points="1692.1,238.6 1698.3,248.4 1685.9,248.4" stroke-linejoin="round"/><polygon points="1705.8,216.7 1712.0,226.5 1699.6,226.5" stroke-linejoin="round"/><polygon points="1722.6,179.0 1728.8,188.8 1716.4,188.8" stroke-linejoin="round"/><polygon points="1736.4,144.4 1742.6,154.2 1730.2,154.2" stroke-linejoin="round"/><polygon points="1750.8,119.4 1757.0,129.2 1744.6,129.2" stroke-linejoin="round"/><polygon points="1766.5,97.0 1772.7,106.8 1760.3,106.8" stroke-linejoin="round"/><polygon points="1796.2,48.6 1802.4,58.4 1790.0,58.4" stroke-linejoin="round"/><polygon points="1810.9,48.6 1817.1,58.4 1804.7,58.4" stroke-linejoin="round"/><polygon points="1825.7,48.6 1831.9,58.4 1819.5,58.4" stroke-linejoin="round"/><polygon points="1840.4,48.6 1846.6,58.4 1834.2,58.4" stroke-linejoin="round"/><polygon points="1855.2,48.6 1861.4,58.4 1849.0,58.4" stroke-linejoin="round"/><polygon points="1870.0,48.6 1876.2,58.4 1863.8,58.4" stroke-linejoin="round"/><polygon points="1884.7,48.6 1890.9,58.4 1878.5,58.4" stroke-linejoin="round"/><polygon points="1899.5,48.6 1905.7,58.4 1893.3,58.4" stroke-linejoin="round"/><polygon points="1914.2,48.6 1920.4,58.4 1908.0,58.4" stroke-linejoin="round"/><polygon points="1929.0,48.6 1935.2,58.4 1922.8,58.4" stroke-linejoin="round"/><polygon points="1943.7,48.6 1949.9,58.4 1937.5,58.4" stroke-linejoin="round"/><polygon points="1958.5,48.6 1964.7,58.4 1952.3,58.4" stroke-linejoin="round"/><polygon points="1973.2,48.6 1979.4,58.4 1967.0,58.4" stroke-linejoin="round"/><polygon points="1988.0,48.6 1994.2,58.4 1981.8,58.4" stroke-linejoin="round"/><polygon points="2002.8,48.6 2009.0,58.4 1996.6,58.4" stroke-linejoin="round"/><polygon points="2017.5,48.6 2023.7,58.4 2011.3,58.4" stroke-linejoin="round"/><polygon points="2032.3,48.6 2038.5,58.4 2026.1,58.4" stroke-linejoin="round"/></g>
<g fill="none" stroke="#f7931e" stroke-width="4.4"><rect x="1437.2" y="543.3" width="9.6" height="9.6" /><rect x="1451.9" y="548.4" width="9.6" height="9.6" /><rect x="1466.5" y="545.8" width="9.6" height="9.6" /><rect x="1481.2" y="553.4" width="9.6" height="9.6" /><rect x="1495.9" y="566.2" width="9.6" height="9.6" /><rect x="1510.6" y="543.3" width="9.6" height="9.6" /><rect x="1525.2" y="535.6" width="9.6" height="9.6" /><rect x="1539.9" y="528.0" width="9.6" height="9.6" /><rect x="1554.6" y="526.4" width="9.6" height="9.6" /><rect x="1569.2" y="528.0" width="9.6" height="9.6" /><rect x="1583.9" y="528.5" width="9.6" height="9.6" /><rect x="1598.8" y="526.4" width="9.6" height="9.6" /><rect x="1613.6" y="522.4" width="9.6" height="9.6" /><rect x="1628.5" y="506.6" width="9.6" height="9.6" /><rect x="1643.5" y="464.8" width="9.6" height="9.6" /><rect x="1656.0" y="418.9" width="9.6" height="9.6" /><rect x="1672.8" y="366.9" width="9.6" height="9.6" /><rect x="1687.3" y="340.4" width="9.6" height="9.6" /><rect x="1701.0" y="302.2" width="9.6" height="9.6" /><rect x="1717.8" y="221.2" width="9.6" height="9.6" /><rect x="1732.3" y="150.9" width="9.6" height="9.6" /><rect x="1746.0" y="110.1" width="9.6" height="9.6" /><rect x="1761.7" y="105.0" width="9.6" height="9.6" /><rect x="1775.4" y="64.2" width="9.6" height="9.6" /><rect x="1775.9" y="59.1" width="9.6" height="9.6" /><rect x="1791.4" y="49.0" width="9.6" height="9.6" /><rect x="1806.1" y="49.0" width="9.6" height="9.6" /><rect x="1820.9" y="49.0" width="9.6" height="9.6" /><rect x="1835.6" y="49.0" width="9.6" height="9.6" /><rect x="1850.4" y="49.0" width="9.6" height="9.6" /><rect x="1865.2" y="49.0" width="9.6" height="9.6" /><rect x="1879.9" y="49.0" width="9.6" height="9.6" /><rect x="1894.7" y="49.0" width="9.6" height="9.6" /><rect x="1909.4" y="49.0" width="9.6" height="9.6" /><rect x="1924.2" y="49.0" width="9.6" height="9.6" /><rect x="1938.9" y="49.0" width="9.6" height="9.6" /><rect x="1953.7" y="49.0" width="9.6" height="9.6" /><rect x="1968.4" y="49.0" width="9.6" height="9.6" /><rect x="1983.2" y="49.0" width="9.6" height="9.6" /><rect x="1998.0" y="49.0" width="9.6" height="9.6" /><rect x="2012.7" y="49.0" width="9.6" height="9.6" /><rect x="2027.5" y="49.0" width="9.6" height="9.6" /></g>
<g fill="none" stroke="#f7931e" stroke-width="4.4"><circle cx="1442.0" cy="563.3" r="4.8" /><circle cx="1456.7" cy="558.2" r="4.8" /><circle cx="1471.3" cy="560.8" r="4.8" /><circle cx="1486.0" cy="563.3" r="4.8" /><circle cx="1500.7" cy="553.1" r="4.8" /><circle cx="1515.4" cy="548.1" r="4.8" /><circle cx="1530.0" cy="543.0" r="4.8" /><circle cx="1544.7" cy="540.4" r="4.8" /><circle cx="1559.4" cy="543.0" r="4.8" /><circle cx="1574.0" cy="543.0" r="4.8" /><circle cx="1588.7" cy="552.1" r="4.8" /><circle cx="1603.6" cy="567.2" r="4.8" /><circle cx="1618.4" cy="574.3" r="4.8" /><circle cx="1633.3" cy="569.2" r="4.8" /><circle cx="1648.3" cy="553.4" r="4.8" /><circle cx="1662.7" cy="526.7" r="4.8" /><circle cx="1677.6" cy="486.4" r="4.8" /><circle cx="1692.1" cy="465.5" r="4.8" /><circle cx="1706.9" cy="438.0" r="4.8" /><circle cx="1722.6" cy="373.8" r="4.8" /><circle cx="1736.4" cy="278.5" r="4.8" /><circle cx="1750.8" cy="210.2" r="4.8" /><circle cx="1766.5" cy="148.5" r="4.8" /><circle cx="1780.2" cy="78.2" r="4.8" /><circle cx="1796.2" cy="53.8" r="4.8" /><circle cx="1810.9" cy="53.8" r="4.8" /><circle cx="1825.7" cy="53.8" r="4.8" /><circle cx="1840.4" cy="53.8" r="4.8" /><circle cx="1855.2" cy="53.8" r="4.8" /><circle cx="1870.0" cy="53.8" r="4.8" /><circle cx="1884.7" cy="53.8" r="4.8" /><circle cx="1899.5" cy="53.8" r="4.8" /><circle cx="1914.2" cy="53.8" r="4.8" /><circle cx="1929.0" cy="53.8" r="4.8" /><circle cx="1943.7" cy="53.8" r="4.8" /><circle cx="1958.5" cy="53.8" r="4.8" /><circle cx="1973.2" cy="53.8" r="4.8" /><circle cx="1988.0" cy="53.8" r="4.8" /><circle cx="2002.8" cy="53.8" r="4.8" /><circle cx="2017.5" cy="53.8" r="4.8" /><circle cx="2032.3" cy="53.8" r="4.8" /></g>
<g fill="none" stroke="#2f4aa8" stroke-width="4.4"><polygon points="1442.0,48.4 1448.2,58.2 1435.8,58.2" stroke-linejoin="round"/><polygon points="1456.8,47.4 1463.0,57.2 1450.6,57.2" stroke-linejoin="round"/><polygon points="1471.5,46.2 1477.7,56.0 1465.3,56.0" stroke-linejoin="round"/><polygon points="1486.3,44.8 1492.5,54.6 1480.1,54.6" stroke-linejoin="round"/><polygon points="1501.0,43.2 1507.2,53.0 1494.8,53.0" stroke-linejoin="round"/><polygon points="1515.8,41.5 1522.0,51.3 1509.6,51.3" stroke-linejoin="round"/><polygon points="1530.5,39.8 1536.7,49.6 1524.3,49.6" stroke-linejoin="round"/><polygon points="1545.3,37.9 1551.5,47.7 1539.1,47.7" stroke-linejoin="round"/><polygon points="1560.1,36.0 1566.3,45.8 1553.9,45.8" stroke-linejoin="round"/><polygon points="1574.8,34.0 1581.0,43.8 1568.6,43.8" stroke-linejoin="round"/><polygon points="1589.6,32.0 1595.8,41.8 1583.4,41.8" stroke-linejoin="round"/><polygon points="1604.3,29.9 1610.5,39.7 1598.1,39.7" stroke-linejoin="round"/><polygon points="1619.1,27.7 1625.3,37.5 1612.9,37.5" stroke-linejoin="round"/><polygon points="1633.8,25.6 1640.0,35.4 1627.6,35.4" stroke-linejoin="round"/><polygon points="1648.6,26.3 1654.8,36.1 1642.4,36.1" stroke-linejoin="round"/><polygon points="1663.4,29.1 1669.6,38.9 1657.2,38.9" stroke-linejoin="round"/><polygon points="1678.1,31.8 1684.3,41.6 1671.9,41.6" stroke-linejoin="round"/><polygon points="1692.9,34.6 1699.1,44.4 1686.7,44.4" stroke-linejoin="round"/><polygon points="1707.6,37.4 1713.8,47.2 1701.4,47.2" stroke-linejoin="round"/><polygon points="1722.4,56.2 1728.6,66.0 1716.2,66.0" stroke-linejoin="round"/><polygon points="1737.1,94.4 1743.3,104.2 1730.9,104.2" stroke-linejoin="round"/><polygon points="1766.5,131.6 1772.7,141.4 1760.3,141.4" stroke-linejoin="round"/><polygon points="1780.2,163.7 1786.4,173.5 1774.0,173.5" stroke-linejoin="round"/><polygon points="1795.0,198.4 1801.2,208.2 1788.8,208.2" stroke-linejoin="round"/><polygon points="1810.0,243.2 1816.2,253.0 1803.8,253.0" stroke-linejoin="round"/><polygon points="1824.4,287.6 1830.6,297.4 1818.2,297.4" stroke-linejoin="round"/><polygon points="1838.9,333.4 1845.1,343.2 1832.7,343.2" stroke-linejoin="round"/><polygon points="1854.5,376.2 1860.7,386.0 1848.3,386.0" stroke-linejoin="round"/><polygon points="1867.5,410.9 1873.7,420.7 1861.3,420.7" stroke-linejoin="round"/><polygon points="1882.1,442.0 1888.3,451.8 1875.9,451.8" stroke-linejoin="round"/><polygon points="1898.0,469.5 1904.2,479.3 1891.8,479.3" stroke-linejoin="round"/><polygon points="1912.7,483.7 1918.9,493.5 1906.5,493.5" stroke-linejoin="round"/><polygon points="1927.4,495.0 1933.6,504.8 1921.2,504.8" stroke-linejoin="round"/><polygon points="1942.0,499.5 1948.2,509.3 1935.8,509.3" stroke-linejoin="round"/><polygon points="1956.7,516.9 1962.9,526.7 1950.5,526.7" stroke-linejoin="round"/><polygon points="1972.6,525.5 1978.8,535.3 1966.4,535.3" stroke-linejoin="round"/><polygon points="1986.1,526.5 1992.3,536.3 1979.9,536.3" stroke-linejoin="round"/><polygon points="2000.7,528.6 2006.9,538.4 1994.5,538.4" stroke-linejoin="round"/><polygon points="2015.4,533.2 2021.6,543.0 2009.2,543.0" stroke-linejoin="round"/><polygon points="2030.1,538.3 2036.3,548.1 2023.9,548.1" stroke-linejoin="round"/><polygon points="1750.8,114.8 1757.0,124.6 1744.6,124.6" stroke-linejoin="round"/></g>
<g fill="none" stroke="#2f4aa8" stroke-width="4.4"><rect x="1437.2" y="48.3" width="9.6" height="9.6" /><rect x="1452.0" y="49.8" width="9.6" height="9.6" /><rect x="1466.7" y="51.0" width="9.6" height="9.6" /><rect x="1481.5" y="51.8" width="9.6" height="9.6" /><rect x="1496.2" y="52.0" width="9.6" height="9.6" /><rect x="1511.0" y="51.4" width="9.6" height="9.6" /><rect x="1525.7" y="50.3" width="9.6" height="9.6" /><rect x="1540.5" y="48.9" width="9.6" height="9.6" /><rect x="1555.3" y="47.5" width="9.6" height="9.6" /><rect x="1570.0" y="46.4" width="9.6" height="9.6" /><rect x="1584.8" y="45.9" width="9.6" height="9.6" /><rect x="1599.5" y="46.1" width="9.6" height="9.6" /><rect x="1614.3" y="36.8" width="9.6" height="9.6" /><rect x="1629.0" y="38.1" width="9.6" height="9.6" /><rect x="1643.8" y="39.6" width="9.6" height="9.6" /><rect x="1658.6" y="40.8" width="9.6" height="9.6" /><rect x="1673.3" y="41.6" width="9.6" height="9.6" /><rect x="1688.1" y="41.8" width="9.6" height="9.6" /><rect x="1702.8" y="51.4" width="9.6" height="9.6" /><rect x="1717.6" y="56.6" width="9.6" height="9.6" /><rect x="1732.3" y="84.6" width="9.6" height="9.6" /><rect x="1761.7" y="135.6" width="9.6" height="9.6" /><rect x="1777.3" y="209.5" width="9.6" height="9.6" /><rect x="1789.8" y="276.2" width="9.6" height="9.6" /><rect x="1804.7" y="340.9" width="9.6" height="9.6" /><rect x="1819.1" y="397.0" width="9.6" height="9.6" /><rect x="1833.9" y="439.3" width="9.6" height="9.6" /><rect x="1849.7" y="464.8" width="9.6" height="9.6" /><rect x="1863.4" y="488.2" width="9.6" height="9.6" /><rect x="1878.6" y="505.5" width="9.6" height="9.6" /><rect x="1893.2" y="518.3" width="9.6" height="9.6" /><rect x="1907.9" y="529.0" width="9.6" height="9.6" /><rect x="1922.6" y="544.8" width="9.6" height="9.6" /><rect x="1938.5" y="561.6" width="9.6" height="9.6" /><rect x="1951.9" y="548.4" width="9.6" height="9.6" /><rect x="1967.8" y="545.8" width="9.6" height="9.6" /><rect x="1981.3" y="548.4" width="9.6" height="9.6" /><rect x="1995.9" y="549.4" width="9.6" height="9.6" /><rect x="2010.6" y="550.9" width="9.6" height="9.6" /><rect x="2025.3" y="552.4" width="9.6" height="9.6" /><rect x="1746.0" y="105.0" width="9.6" height="9.6" /></g>
<g fill="none" stroke="#2f4aa8" stroke-width="4.4"><circle cx="1442.0" cy="57.7" r="4.8" /><circle cx="1456.8" cy="57.6" r="4.8" /><circle cx="1471.5" cy="56.1" r="4.8" /><circle cx="1486.3" cy="53.9" r="4.8" /><circle cx="1501.0" cy="52.2" r="4.8" /><circle cx="1515.8" cy="51.8" r="4.8" /><circle cx="1530.5" cy="52.8" r="4.8" /><circle cx="1545.3" cy="54.9" r="4.8" /><circle cx="1560.1" cy="56.9" r="4.8" /><circle cx="1574.8" cy="57.8" r="4.8" /><circle cx="1589.6" cy="57.2" r="4.8" /><circle cx="1604.3" cy="55.4" r="4.8" /><circle cx="1619.1" cy="53.3" r="4.8" /><circle cx="1633.8" cy="51.9" r="4.8" /><circle cx="1648.6" cy="52.0" r="4.8" /><circle cx="1663.4" cy="47.3" r="4.8" /><circle cx="1678.1" cy="49.5" r="4.8" /><circle cx="1692.9" cy="51.2" r="4.8" /><circle cx="1707.6" cy="51.7" r="4.8" /><circle cx="1722.4" cy="48.7" r="4.8" /><circle cx="1737.1" cy="71.6" r="4.8" /><circle cx="1766.5" cy="155.7" r="4.8" /><circle cx="1780.2" cy="233.6" r="4.8" /><circle cx="1795.0" cy="327.1" r="4.8" /><circle cx="1809.5" cy="416.6" r="4.8" /><circle cx="1824.4" cy="482.3" r="4.8" /><circle cx="1838.9" cy="527.2" r="4.8" /><circle cx="1854.5" cy="545.5" r="4.8" /><circle cx="1867.5" cy="548.1" r="4.8" /><circle cx="1882.1" cy="548.1" r="4.8" /><circle cx="1898.0" cy="545.5" r="4.8" /><circle cx="1912.7" cy="549.1" r="4.8" /><circle cx="1927.4" cy="553.1" r="4.8" /><circle cx="1942.0" cy="550.6" r="4.8" /><circle cx="1956.7" cy="558.2" r="4.8" /><circle cx="1972.6" cy="557.2" r="4.8" /><circle cx="1986.1" cy="555.7" r="4.8" /><circle cx="2000.7" cy="558.2" r="4.8" /><circle cx="2015.4" cy="559.3" r="4.8" /><circle cx="2030.1" cy="558.2" r="4.8" /><circle cx="1750.8" cy="102.2" r="4.8" /></g>
</g>
<path d="M1443.2,614.3 v-5 M1443.2,2.8 v5 M1467.7,614.3 v-5 M1467.7,2.8 v5 M1492.1,614.3 v-10 M1492.1,2.8 v10 M1516.6,614.3 v-5 M1516.6,2.8 v5 M1541.0,614.3 v-5 M1541.0,2.8 v5 M1565.5,614.3 v-5 M1565.5,2.8 v5 M1589.9,614.3 v-5 M1589.9,2.8 v5 M1614.4,614.3 v-10 M1614.4,2.8 v10 M1638.8,614.3 v-5 M1638.8,2.8 v5 M1663.3,614.3 v-5 M1663.3,2.8 v5 M1687.7,614.3 v-5 M1687.7,2.8 v5 M1712.2,614.3 v-5 M1712.2,2.8 v5 M1736.7,614.3 v-10 M1736.7,2.8 v10 M1761.1,614.3 v-5 M1761.1,2.8 v5 M1785.6,614.3 v-5 M1785.6,2.8 v5 M1810.0,614.3 v-5 M1810.0,2.8 v5 M1834.5,614.3 v-5 M1834.5,2.8 v5 M1858.9,614.3 v-10 M1858.9,2.8 v10 M1883.4,614.3 v-5 M1883.4,2.8 v5 M1907.8,614.3 v-5 M1907.8,2.8 v5 M1932.3,614.3 v-5 M1932.3,2.8 v5 M1956.7,614.3 v-5 M1956.7,2.8 v5 M1981.2,614.3 v-10 M1981.2,2.8 v10 M2005.6,614.3 v-5 M2005.6,2.8 v5 M2030.1,614.3 v-5 M2030.1,2.8 v5 M1431.0,614.3 h5 M2042.3,614.3 h-5 M1431.0,588.8 h5 M2042.3,588.8 h-5 M1431.0,563.3 h10 M2042.3,563.3 h-10 M1431.0,537.9 h5 M2042.3,537.9 h-5 M1431.0,512.4 h5 M2042.3,512.4 h-5 M1431.0,486.9 h5 M2042.3,486.9 h-5 M1431.0,461.4 h10 M2042.3,461.4 h-10 M1431.0,435.9 h5 M2042.3,435.9 h-5 M1431.0,410.5 h5 M2042.3,410.5 h-5 M1431.0,385.0 h5 M2042.3,385.0 h-5 M1431.0,359.5 h10 M2042.3,359.5 h-10 M1431.0,334.0 h5 M2042.3,334.0 h-5 M1431.0,308.5 h5 M2042.3,308.5 h-5 M1431.0,283.1 h5 M2042.3,283.1 h-5 M1431.0,257.6 h10 M2042.3,257.6 h-10 M1431.0,232.1 h5 M2042.3,232.1 h-5 M1431.0,206.6 h5 M2042.3,206.6 h-5 M1431.0,181.2 h5 M2042.3,181.2 h-5 M1431.0,155.7 h10 M2042.3,155.7 h-10 M1431.0,130.2 h5 M2042.3,130.2 h-5 M1431.0,104.7 h5 M2042.3,104.7 h-5 M1431.0,79.2 h5 M2042.3,79.2 h-5 M1431.0,53.8 h10 M2042.3,53.8 h-10 M1431.0,28.3 h5 M2042.3,28.3 h-5 M1431.0,2.8 h5 M2042.3,2.8 h-5" stroke="#151515" stroke-width="2.2" fill="none"/>
<rect x="1431.0" y="2.8" width="611.3" height="611.5" fill="none" stroke="#151515" stroke-width="3"/>
<text x="1416" y="571.1" font-size="34.5" text-anchor="end" font-weight="normal" font-style="normal" fill="#000" >0.0</text>
<text x="1416" y="469.2" font-size="34.5" text-anchor="end" font-weight="normal" font-style="normal" fill="#000" >0.2</text>
<text x="1416" y="367.3" font-size="34.5" text-anchor="end" font-weight="normal" font-style="normal" fill="#000" >0.4</text>
<text x="1416" y="265.4" font-size="34.5" text-anchor="end" font-weight="normal" font-style="normal" fill="#000" >0.6</text>
<text x="1416" y="163.5" font-size="34.5" text-anchor="end" font-weight="normal" font-style="normal" fill="#000" >0.8</text>
<text x="1416" y="61.6" font-size="34.5" text-anchor="end" font-weight="normal" font-style="normal" fill="#000" >1.0</text>
<text x="1492.1" y="649.7" font-size="34.5" text-anchor="middle" font-weight="normal" font-style="normal" fill="#000" >-2</text>
<text x="1614.4" y="649.7" font-size="34.5" text-anchor="middle" font-weight="normal" font-style="normal" fill="#000" >-1</text>
<text x="1736.7" y="649.7" font-size="34.5" text-anchor="middle" font-weight="normal" font-style="normal" fill="#000" >0</text>
<text x="1858.9" y="649.7" font-size="34.5" text-anchor="middle" font-weight="normal" font-style="normal" fill="#000" >1</text>
<text x="1981.2" y="649.7" font-size="34.5" text-anchor="middle" font-weight="normal" font-style="normal" fill="#000" >2</text>
<text transform="translate(1352.6,590) rotate(-90)" font-size="39" textLength="575" lengthAdjust="spacingAndGlyphs">Normalized color concentration</text>
<text x="1674.5" y="713.6" font-size="40" textLength="125" lengthAdjust="spacingAndGlyphs"><tspan font-style="italic">x</tspan> (mm)</text>
<g fill="none" stroke="#000" stroke-width="1.8"><circle cx="1865.9" cy="100.7" r="14"/><rect x="1852.2" y="139.6" width="27.8" height="28.6"/><polygon points="1866,193 1880,221.7 1851.7,221.7"/></g>
<text x="1896.4" y="113.3" font-size="38" text-anchor="start" font-weight="normal" font-style="normal" fill="#000" textLength="99.6" lengthAdjust="spacingAndGlyphs" >1 min</text>
<text x="1894.8" y="166.3" font-size="38" text-anchor="start" font-weight="normal" font-style="normal" fill="#000" textLength="101.2" lengthAdjust="spacingAndGlyphs" >5 min</text>
<text x="1896" y="220.3" font-size="38" text-anchor="start" font-weight="normal" font-style="normal" fill="#000" textLength="122" lengthAdjust="spacingAndGlyphs" >15 min</text>
<g clip-path="url(#gclip)">
<path d="M1439.8,1337.9 L1439.8,1349.9 L1439.8,1343.5 L1439.8,1338.1 L1439.8,1333.3 L1439.8,1328.9 L1439.8,1324.9 L1439.8,1321.0 L1439.8,1317.4 L1439.8,1313.9 L1439.9,1310.5 L1439.9,1307.3 L1439.9,1304.1 L1439.9,1301.1 L1439.9,1298.1 L1440.0,1295.2 L1440.0,1292.4 L1440.0,1289.6 L1440.1,1286.9 L1440.1,1284.2 L1440.1,1281.6 L1440.2,1279.0 L1440.2,1276.5 L1440.3,1274.0 L1440.3,1271.6 L1440.4,1269.2 L1440.4,1266.8 L1440.5,1264.4 L1440.6,1262.1 L1440.6,1259.8 L1440.7,1257.6 L1440.8,1255.3 L1440.9,1253.1 L1441.0,1250.9 L1441.1,1248.8 L1441.1,1246.6 L1441.2,1244.5 L1441.3,1242.4 L1441.5,1240.3 L1441.6,1238.3 L1441.7,1236.2 L1441.8,1234.2 L1441.9,1232.2 L1442.0,1230.2 L1442.2,1228.3 L1442.3,1226.3 L1442.5,1224.4 L1442.6,1222.4 L1442.8,1220.5 L1442.9,1218.6 L1443.1,1216.7 L1443.2,1214.9 L1443.4,1213.0 L1443.6,1211.1 L1443.8,1209.3 L1444.0,1207.5 L1444.2,1205.7 L1444.3,1203.9 L1444.6,1202.1 L1444.8,1200.3 L1445.0,1198.5 L1445.2,1196.8 L1445.4,1195.0 L1445.6,1193.3 L1445.9,1191.6 L1446.1,1189.8 L1446.4,1188.1 L1446.6,1186.4 L1446.9,1184.7 L1447.1,1183.1 L1447.4,1181.4 L1447.7,1179.7 L1448.0,1178.1 L1448.2,1176.4 L1448.5,1174.8 L1448.8,1173.1 L1449.1,1171.5 L1449.4,1169.9 L1449.8,1168.3 L1450.1,1166.7 L1450.4,1165.1 L1450.8,1163.5 L1451.1,1161.9 L1451.4,1160.3 L1451.8,1158.7 L1452.2,1157.2 L1452.5,1155.6 L1452.9,1154.1 L1453.3,1152.5 L1453.7,1151.0 L1454.1,1149.5 L1454.5,1147.9 L1454.9,1146.4 L1455.3,1144.9 L1455.7,1143.4 L1456.1,1141.9 L1456.5,1140.4 L1457.0,1138.9 L1457.4,1137.4 L1457.9,1135.9 L1458.3,1134.4 L1458.8,1133.0 L1459.3,1131.5 L1459.8,1130.0 L1460.3,1128.6 L1460.8,1127.1 L1461.3,1125.7 L1461.8,1124.2 L1462.3,1122.8 L1462.8,1121.4 L1463.3,1119.9 L1463.9,1118.5 L1464.4,1117.1 L1465.0,1115.7 L1465.5,1114.3 L1466.1,1112.9 L1466.7,1111.5 L1467.3,1110.1 L1467.9,1108.7 L1468.5,1107.3 L1469.1,1105.9 L1469.7,1104.5 L1470.3,1103.1 L1470.9,1101.8 L1471.6,1100.4 L1472.2,1099.0 L1472.9,1097.7 L1473.5,1096.3 L1474.2,1095.0 L1474.9,1093.6 L1475.5,1092.3 L1476.2,1090.9 L1476.9,1089.6 L1477.6,1088.2 L1478.4,1086.9 L1479.1,1085.6 L1479.8,1084.2 L1480.5,1082.9 L1481.3,1081.6 L1482.0,1080.3 L1482.8,1079.0 L1483.6,1077.7 L1484.4,1076.4 L1485.2,1075.1 L1486.0,1073.8 L1486.8,1072.5 L1487.6,1071.2 L1488.4,1069.9 L1489.2,1068.6 L1490.1,1067.3 L1490.9,1066.0 L1491.8,1064.8 L1492.6,1063.5 L1493.5,1062.2 L1494.4,1060.9 L1495.3,1059.7 L1496.2,1058.4 L1497.1,1057.1 L1498.0,1055.9 L1498.9,1054.6 L1499.9,1053.4 L1500.8,1052.1 L1501.8,1050.9 L1502.7,1049.6 L1503.7,1048.4 L1504.7,1047.2 L1505.6,1045.9 L1506.6,1044.7 L1507.6,1043.5 L1508.7,1042.2 L1509.7,1041.0 L1510.7,1039.8 L1511.8,1038.6 L1512.8,1037.3 L1513.9,1036.1 L1514.9,1034.9 L1516.0,1033.7 L1517.1,1032.5 L1518.2,1031.3 L1519.3,1030.1 L1520.4,1028.9 L1521.5,1027.7 L1522.7,1026.5 L1523.8,1025.3 L1525.0,1024.1 L1526.1,1022.9 L1527.3,1021.7 L1528.5,1020.5 L1529.7,1019.3 L1530.9,1018.2 L1532.1,1017.0 L1533.3,1015.8 L1534.5,1014.6 L1535.8,1013.5 L1537.0,1012.3 L1538.3,1011.1 L1539.5,1010.0 L1540.8,1008.8 L1542.1,1007.6 L1543.4,1006.5 L1544.7,1005.3 L1546.0,1004.2 L1547.4,1003.0 L1548.7,1001.9 L1550.0,1000.7 L1551.4,999.6 L1552.8,998.4 L1554.1,997.3 L1555.5,996.1 L1556.9,995.0 L1558.3,993.8 L1559.7,992.7 L1561.2,991.6 L1562.6,990.4 L1564.1,989.3 L1565.5,988.2 L1567.0,987.1 L1568.5,985.9 L1569.9,984.8 L1571.4,983.7 L1572.9,982.6 L1574.5,981.4 L1576.0,980.3 L1577.5,979.2 L1579.1,978.1 L1580.6,977.0 L1582.2,975.9 L1583.8,974.8 L1585.4,973.7 L1587.0,972.6 L1588.6,971.5 L1590.2,970.4 L1591.9,969.3 L1593.5,968.2 L1595.1,967.1 L1596.8,966.0 L1598.5,964.9 L1600.2,963.8 L1601.9,962.7 L1603.6,961.6 L1605.3,960.5 L1607.0,959.4 L1608.8,958.4 L1610.5,957.3 L1612.3,956.2 L1614.1,955.1 L1615.8,954.0 L1617.6,953.0 L1619.4,951.9 L1621.3,950.8 L1623.1,949.8 L1624.9,948.7 L1626.8,947.6 L1628.6,946.5 L1630.5,945.5 L1632.4,944.4 L1634.3,943.4 L1636.2,942.3 L1638.1,941.2 L1640.0,940.2 L1642.0,939.1 L1643.9,938.1 L1645.9,937.0 L1647.8,936.0 L1649.8,934.9 L1651.8,933.9 L1653.8,932.8 L1655.8,931.8 L1657.9,930.7 L1659.9,929.7 L1662.0,928.6 L1664.0,927.6 L1666.1,926.6 L1668.2,925.5 L1670.3,924.5 L1672.4,923.4 L1674.5,922.4 L1676.6,921.4 L1678.8,920.4 L1680.9,919.3 L1683.1,918.3 L1685.3,917.3 L1687.5,916.2 L1689.7,915.2 L1691.9,914.2 L1694.1,913.2 L1696.4,912.1 L1698.6,911.1 L1700.9,910.1 L1703.1,909.1 L1705.4,908.1 L1707.7,907.1 L1710.0,906.0 L1712.3,905.0 L1714.7,904.0 L1717.0,903.0 L1719.4,902.0 L1721.7,901.0 L1724.1,900.0 L1726.5,899.0 L1728.9,898.0 L1731.3,897.0 L1733.8,896.0 L1736.2,895.0 L1738.7,894.0 L1741.1,893.0 L1743.6,892.0 L1746.1,891.0 L1748.6,890.0 L1751.1,889.0 L1753.6,888.0 L1756.2,887.0 L1758.7,886.0 L1761.3,885.0 L1763.8,884.0 L1766.4,883.0 L1769.0,882.1 L1771.6,881.1 L1774.3,880.1 L1776.9,879.1 L1779.5,878.1 L1782.2,877.1 L1784.9,876.2 L1787.6,875.2 L1790.3,874.2 L1793.0,873.2 L1795.7,872.3 L1798.4,871.3 L1801.2,870.3 L1803.9,869.3 L1806.7,868.4 L1809.5,867.4 L1812.3,866.4 L1815.1,865.5 L1817.9,864.5 L1820.8,863.5 L1823.6,862.6 L1826.5,861.6 L1829.3,860.6 L1832.2,859.7 L1835.1,858.7 L1838.1,857.7 L1841.0,856.8 L1843.9,855.8 L1846.9,854.9 L1849.8,853.9 L1852.8,853.0 L1855.8,852.0 L1858.8,851.0 L1861.8,850.1 L1864.9,849.1 L1867.9,848.2 L1870.9,847.2 L1874.0,846.3 L1877.1,845.3 L1880.2,844.4 L1883.3,843.5 L1886.4,842.5 L1889.6,841.6 L1892.7,840.6 L1895.9,839.7 L1899.0,838.7 L1902.2,837.8 L1905.4,836.9 L1908.6,835.9 L1911.9,835.0 L1915.1,834.0 L1918.4,833.1 L1921.6,832.2 L1924.9,831.2 L1928.2,830.3 L1931.5,829.4 L1934.8,828.4 L1938.2,827.5 L1941.5,826.6 L1944.9,825.7 L1948.2,824.7 L1951.6,823.8 L1955.0,822.9 L1958.4,821.9 L1961.9,821.0 L1965.3,820.1 L1968.8,819.2 L1972.2,818.3 L1975.7,817.3 L1979.2,816.4 L1982.7,815.5 L1986.2,814.6 L1989.8,813.7 L1993.3,812.7 L1996.9,811.8 L2000.5,810.9 L2004.1,810.0 L2007.7,809.1 L2011.3,808.2 L2014.9,807.3 L2018.6,806.3 L2022.2,805.4 L2025.9,804.5 L2029.6,803.6 L2033.3,802.7" stroke="#f7931e" stroke-width="2.6" fill="none"/>
<path d="M1439.8,1340.6 L1439.8,1351.4 L1439.8,1345.6 L1439.8,1340.8 L1439.8,1336.4 L1439.8,1332.4 L1439.8,1328.7 L1439.8,1325.2 L1439.8,1321.9 L1439.8,1318.6 L1439.9,1315.5 L1439.9,1312.6 L1439.9,1309.6 L1439.9,1306.8 L1439.9,1304.1 L1440.0,1301.4 L1440.0,1298.8 L1440.0,1296.2 L1440.1,1293.7 L1440.1,1291.2 L1440.1,1288.8 L1440.2,1286.4 L1440.2,1284.0 L1440.3,1281.7 L1440.3,1279.4 L1440.4,1277.1 L1440.4,1274.9 L1440.5,1272.7 L1440.6,1270.6 L1440.6,1268.4 L1440.7,1266.3 L1440.8,1264.2 L1440.9,1262.1 L1441.0,1260.1 L1441.1,1258.1 L1441.1,1256.0 L1441.2,1254.1 L1441.3,1252.1 L1441.5,1250.1 L1441.6,1248.2 L1441.7,1246.3 L1441.8,1244.4 L1441.9,1242.5 L1442.0,1240.6 L1442.2,1238.7 L1442.3,1236.9 L1442.5,1235.1 L1442.6,1233.3 L1442.8,1231.4 L1442.9,1229.7 L1443.1,1227.9 L1443.2,1226.1 L1443.4,1224.3 L1443.6,1222.6 L1443.8,1220.9 L1444.0,1219.1 L1444.2,1217.4 L1444.3,1215.7 L1444.6,1214.0 L1444.8,1212.3 L1445.0,1210.7 L1445.2,1209.0 L1445.4,1207.4 L1445.6,1205.7 L1445.9,1204.1 L1446.1,1202.4 L1446.4,1200.8 L1446.6,1199.2 L1446.9,1197.6 L1447.1,1196.0 L1447.4,1194.4 L1447.7,1192.8 L1448.0,1191.3 L1448.2,1189.7 L1448.5,1188.1 L1448.8,1186.6 L1449.1,1185.0 L1449.4,1183.5 L1449.8,1182.0 L1450.1,1180.4 L1450.4,1178.9 L1450.8,1177.4 L1451.1,1175.9 L1451.4,1174.4 L1451.8,1172.9 L1452.2,1171.4 L1452.5,1169.9 L1452.9,1168.5 L1453.3,1167.0 L1453.7,1165.5 L1454.1,1164.1 L1454.5,1162.6 L1454.9,1161.2 L1455.3,1159.7 L1455.7,1158.3 L1456.1,1156.8 L1456.5,1155.4 L1457.0,1154.0 L1457.4,1152.6 L1457.9,1151.1 L1458.3,1149.7 L1458.8,1148.3 L1459.3,1146.9 L1459.8,1145.5 L1460.3,1144.1 L1460.8,1142.8 L1461.3,1141.4 L1461.8,1140.0 L1462.3,1138.6 L1462.8,1137.3 L1463.3,1135.9 L1463.9,1134.5 L1464.4,1133.2 L1465.0,1131.8 L1465.5,1130.5 L1466.1,1129.1 L1466.7,1127.8 L1467.3,1126.5 L1467.9,1125.1 L1468.5,1123.8 L1469.1,1122.5 L1469.7,1121.1 L1470.3,1119.8 L1470.9,1118.5 L1471.6,1117.2 L1472.2,1115.9 L1472.9,1114.6 L1473.5,1113.3 L1474.2,1112.0 L1474.9,1110.7 L1475.5,1109.4 L1476.2,1108.1 L1476.9,1106.8 L1477.6,1105.6 L1478.4,1104.3 L1479.1,1103.0 L1479.8,1101.7 L1480.5,1100.5 L1481.3,1099.2 L1482.0,1097.9 L1482.8,1096.7 L1483.6,1095.4 L1484.4,1094.2 L1485.2,1092.9 L1486.0,1091.7 L1486.8,1090.4 L1487.6,1089.2 L1488.4,1088.0 L1489.2,1086.7 L1490.1,1085.5 L1490.9,1084.3 L1491.8,1083.0 L1492.6,1081.8 L1493.5,1080.6 L1494.4,1079.4 L1495.3,1078.2 L1496.2,1076.9 L1497.1,1075.7 L1498.0,1074.5 L1498.9,1073.3 L1499.9,1072.1 L1500.8,1070.9 L1501.8,1069.7 L1502.7,1068.5 L1503.7,1067.3 L1504.7,1066.1 L1505.6,1065.0 L1506.6,1063.8 L1507.6,1062.6 L1508.7,1061.4 L1509.7,1060.2 L1510.7,1059.0 L1511.8,1057.9 L1512.8,1056.7 L1513.9,1055.5 L1514.9,1054.4 L1516.0,1053.2 L1517.1,1052.0 L1518.2,1050.9 L1519.3,1049.7 L1520.4,1048.6 L1521.5,1047.4 L1522.7,1046.2 L1523.8,1045.1 L1525.0,1044.0 L1526.1,1042.8 L1527.3,1041.7 L1528.5,1040.5 L1529.7,1039.4 L1530.9,1038.2 L1532.1,1037.1 L1533.3,1036.0 L1534.5,1034.8 L1535.8,1033.7 L1537.0,1032.6 L1538.3,1031.5 L1539.5,1030.3 L1540.8,1029.2 L1542.1,1028.1 L1543.4,1027.0 L1544.7,1025.9 L1546.0,1024.7 L1547.4,1023.6 L1548.7,1022.5 L1550.0,1021.4 L1551.4,1020.3 L1552.8,1019.2 L1554.1,1018.1 L1555.5,1017.0 L1556.9,1015.9 L1558.3,1014.8 L1559.7,1013.7 L1561.2,1012.6 L1562.6,1011.5 L1564.1,1010.4 L1565.5,1009.3 L1567.0,1008.2 L1568.5,1007.2 L1569.9,1006.1 L1571.4,1005.0 L1572.9,1003.9 L1574.5,1002.8 L1576.0,1001.8 L1577.5,1000.7 L1579.1,999.6 L1580.6,998.5 L1582.2,997.5 L1583.8,996.4 L1585.4,995.3 L1587.0,994.3 L1588.6,993.2 L1590.2,992.1 L1591.9,991.1 L1593.5,990.0 L1595.1,988.9 L1596.8,987.9 L1598.5,986.8 L1600.2,985.8 L1601.9,984.7 L1603.6,983.7 L1605.3,982.6 L1607.0,981.6 L1608.8,980.5 L1610.5,979.5 L1612.3,978.4 L1614.1,977.4 L1615.8,976.3 L1617.6,975.3 L1619.4,974.3 L1621.3,973.2 L1623.1,972.2 L1624.9,971.2 L1626.8,970.1 L1628.6,969.1 L1630.5,968.1 L1632.4,967.0 L1634.3,966.0 L1636.2,965.0 L1638.1,964.0 L1640.0,962.9 L1642.0,961.9 L1643.9,960.9 L1645.9,959.9 L1647.8,958.9 L1649.8,957.8 L1651.8,956.8 L1653.8,955.8 L1655.8,954.8 L1657.9,953.8 L1659.9,952.8 L1662.0,951.8 L1664.0,950.8 L1666.1,949.8 L1668.2,948.7 L1670.3,947.7 L1672.4,946.7 L1674.5,945.7 L1676.6,944.7 L1678.8,943.7 L1680.9,942.7 L1683.1,941.7 L1685.3,940.7 L1687.5,939.8 L1689.7,938.8 L1691.9,937.8 L1694.1,936.8 L1696.4,935.8 L1698.6,934.8 L1700.9,933.8 L1703.1,932.8 L1705.4,931.8 L1707.7,930.9 L1710.0,929.9 L1712.3,928.9 L1714.7,927.9 L1717.0,926.9 L1719.4,925.9 L1721.7,925.0 L1724.1,924.0 L1726.5,923.0 L1728.9,922.0 L1731.3,921.1 L1733.8,920.1 L1736.2,919.1 L1738.7,918.2 L1741.1,917.2 L1743.6,916.2 L1746.1,915.3 L1748.6,914.3 L1751.1,913.3 L1753.6,912.4 L1756.2,911.4 L1758.7,910.4 L1761.3,909.5 L1763.8,908.5 L1766.4,907.6 L1769.0,906.6 L1771.6,905.6 L1774.3,904.7 L1776.9,903.7 L1779.5,902.8 L1782.2,901.8 L1784.9,900.9 L1787.6,899.9 L1790.3,899.0 L1793.0,898.0 L1795.7,897.1 L1798.4,896.1 L1801.2,895.2 L1803.9,894.2 L1806.7,893.3 L1809.5,892.4 L1812.3,891.4 L1815.1,890.5 L1817.9,889.5 L1820.8,888.6 L1823.6,887.7 L1826.5,886.7 L1829.3,885.8 L1832.2,884.9 L1835.1,883.9 L1838.1,883.0 L1841.0,882.1 L1843.9,881.1 L1846.9,880.2 L1849.8,879.3 L1852.8,878.3 L1855.8,877.4 L1858.8,876.5 L1861.8,875.6 L1864.9,874.6 L1867.9,873.7 L1870.9,872.8 L1874.0,871.9 L1877.1,870.9 L1880.2,870.0 L1883.3,869.1 L1886.4,868.2 L1889.6,867.3 L1892.7,866.3 L1895.9,865.4 L1899.0,864.5 L1902.2,863.6 L1905.4,862.7 L1908.6,861.8 L1911.9,860.9 L1915.1,859.9 L1918.4,859.0 L1921.6,858.1 L1924.9,857.2 L1928.2,856.3 L1931.5,855.4 L1934.8,854.5 L1938.2,853.6 L1941.5,852.7 L1944.9,851.8 L1948.2,850.9 L1951.6,850.0 L1955.0,849.1 L1958.4,848.2 L1961.9,847.3 L1965.3,846.4 L1968.8,845.5 L1972.2,844.6 L1975.7,843.7 L1979.2,842.8 L1982.7,841.9 L1986.2,841.0 L1989.8,840.1 L1993.3,839.2 L1996.9,838.3 L2000.5,837.4 L2004.1,836.5 L2007.7,835.6 L2011.3,834.8 L2014.9,833.9 L2018.6,833.0 L2022.2,832.1 L2025.9,831.2 L2029.6,830.3 L2033.3,829.4" stroke="#2f4aa8" stroke-width="2.6" fill="none"/>
</g>
<path d="M1439.8,1361.3 v-11 M1439.8,767.9 v11 M1469.5,1361.3 v-5.6 M1469.5,767.9 v5.6 M1499.1,1361.3 v-5.6 M1499.1,767.9 v5.6 M1528.8,1361.3 v-5.6 M1528.8,767.9 v5.6 M1558.5,1361.3 v-5.6 M1558.5,767.9 v5.6 M1588.2,1361.3 v-11 M1588.2,767.9 v11 M1617.8,1361.3 v-5.6 M1617.8,767.9 v5.6 M1647.5,1361.3 v-5.6 M1647.5,767.9 v5.6 M1677.2,1361.3 v-5.6 M1677.2,767.9 v5.6 M1706.9,1361.3 v-5.6 M1706.9,767.9 v5.6 M1736.5,1361.3 v-11 M1736.5,767.9 v11 M1766.2,1361.3 v-5.6 M1766.2,767.9 v5.6 M1795.9,1361.3 v-5.6 M1795.9,767.9 v5.6 M1825.6,1361.3 v-5.6 M1825.6,767.9 v5.6 M1855.2,1361.3 v-5.6 M1855.2,767.9 v5.6 M1884.9,1361.3 v-11 M1884.9,767.9 v11 M1914.6,1361.3 v-5.6 M1914.6,767.9 v5.6 M1944.3,1361.3 v-5.6 M1944.3,767.9 v5.6 M1973.9,1361.3 v-5.6 M1973.9,767.9 v5.6 M2003.6,1361.3 v-5.6 M2003.6,767.9 v5.6 M2033.3,1361.3 v-11 M2033.3,767.9 v11 M1439.8,1361.3 h11 M2033.3,1361.3 h-11 M1439.8,1337.6 h5.6 M2033.3,1337.6 h-5.6 M1439.8,1313.8 h5.6 M2033.3,1313.8 h-5.6 M1439.8,1290.1 h5.6 M2033.3,1290.1 h-5.6 M1439.8,1266.4 h5.6 M2033.3,1266.4 h-5.6 M1439.8,1242.6 h11 M2033.3,1242.6 h-11 M1439.8,1218.9 h5.6 M2033.3,1218.9 h-5.6 M1439.8,1195.1 h5.6 M2033.3,1195.1 h-5.6 M1439.8,1171.4 h5.6 M2033.3,1171.4 h-5.6 M1439.8,1147.7 h5.6 M2033.3,1147.7 h-5.6 M1439.8,1123.9 h11 M2033.3,1123.9 h-11 M1439.8,1100.2 h5.6 M2033.3,1100.2 h-5.6 M1439.8,1076.5 h5.6 M2033.3,1076.5 h-5.6 M1439.8,1052.7 h5.6 M2033.3,1052.7 h-5.6 M1439.8,1029.0 h5.6 M2033.3,1029.0 h-5.6 M1439.8,1005.3 h11 M2033.3,1005.3 h-11 M1439.8,981.5 h5.6 M2033.3,981.5 h-5.6 M1439.8,957.8 h5.6 M2033.3,957.8 h-5.6 M1439.8,934.1 h5.6 M2033.3,934.1 h-5.6 M1439.8,910.3 h5.6 M2033.3,910.3 h-5.6 M1439.8,886.6 h11 M2033.3,886.6 h-11 M1439.8,862.8 h5.6 M2033.3,862.8 h-5.6 M1439.8,839.1 h5.6 M2033.3,839.1 h-5.6 M1439.8,815.4 h5.6 M2033.3,815.4 h-5.6 M1439.8,791.6 h5.6 M2033.3,791.6 h-5.6 M1439.8,767.9 h11 M2033.3,767.9 h-11" stroke="#151515" stroke-width="2.2" fill="none"/>
<rect x="1439.8" y="767.9" width="593.5" height="593.4" fill="none" stroke="#151515" stroke-width="3"/>
<circle cx="1469.5" cy="1114.4" r="8.6" fill="#2f4aa8"/>
<circle cx="1528.8" cy="1044.2" r="8.6" fill="#2f4aa8"/>
<circle cx="1588.2" cy="1019.3" r="8.6" fill="#2f4aa8"/>
<circle cx="1736.5" cy="916.5" r="8.6" fill="#2f4aa8"/>
<circle cx="1884.9" cy="848.4" r="8.6" fill="#2f4aa8"/>
<circle cx="1469.5" cy="1102.1" r="8.6" fill="#f7931e"/>
<circle cx="1528.8" cy="1016.7" r="8.6" fill="#f7931e"/>
<circle cx="1588.2" cy="987.7" r="8.6" fill="#f7931e"/>
<circle cx="1736.5" cy="884.9" r="8.6" fill="#f7931e"/>
<circle cx="1884.9" cy="835.8" r="8.6" fill="#f7931e"/>
<text x="1425.2" y="1368.5" font-size="33.5" text-anchor="end" font-weight="normal" font-style="normal" fill="#000" >0.0</text>
<text x="1425.2" y="1249.8" font-size="33.5" text-anchor="end" font-weight="normal" font-style="normal" fill="#000" >0.5</text>
<text x="1425.2" y="1131.1" font-size="33.5" text-anchor="end" font-weight="normal" font-style="normal" fill="#000" >1.0</text>
<text x="1425.2" y="1012.5" font-size="33.5" text-anchor="end" font-weight="normal" font-style="normal" fill="#000" >1.5</text>
<text x="1425.2" y="893.8" font-size="33.5" text-anchor="end" font-weight="normal" font-style="normal" fill="#000" >2.0</text>
<text x="1425.2" y="775.1" font-size="33.5" text-anchor="end" font-weight="normal" font-style="normal" fill="#000" >2.5</text>
<text x="1439.8" y="1395.9" font-size="33.5" text-anchor="middle" font-weight="normal" font-style="normal" fill="#000" >0</text>
<text x="1588.2" y="1395.9" font-size="33.5" text-anchor="middle" font-weight="normal" font-style="normal" fill="#000" >5</text>
<text x="1736.5" y="1395.9" font-size="33.5" text-anchor="middle" font-weight="normal" font-style="normal" fill="#000" >10</text>
<text x="1884.9" y="1395.9" font-size="33.5" text-anchor="middle" font-weight="normal" font-style="normal" fill="#000" >15</text>
<text x="2033.3" y="1395.9" font-size="33.5" text-anchor="middle" font-weight="normal" font-style="normal" fill="#000" >20</text>
<text x="1681.5" y="1458.2" font-size="40" textLength="112" lengthAdjust="spacingAndGlyphs"><tspan font-style="italic">t</tspan> (min)</text>
<text transform="translate(1350.8,1131.5) rotate(-90)" font-size="40" textLength="137" lengthAdjust="spacingAndGlyphs"><tspan font-style="italic">W</tspan> (mm)</text>
<text x="1533" y="839.1" font-size="33" textLength="140" lengthAdjust="spacingAndGlyphs"><tspan font-style="italic">W</tspan> = 1.08<tspan font-style="italic">t</tspan></text>
<text x="1678.5" y="822.5" font-size="21.7" text-anchor="start" font-weight="normal" font-style="normal" fill="#000" textLength="44.5" lengthAdjust="spacingAndGlyphs" >0.26</text>
<text x="1829.3" y="964.6" font-size="33" textLength="140" lengthAdjust="spacingAndGlyphs"><tspan font-style="italic">W</tspan> = 1.01<tspan font-style="italic">t</tspan></text>
<text x="1975" y="948.1" font-size="21.7" text-anchor="start" font-weight="normal" font-style="normal" fill="#000" textLength="44.5" lengthAdjust="spacingAndGlyphs" >0.27</text>
<path d="M1660.9,849.3 L1695,883" stroke="#111" stroke-width="1.1"/>
<polygon points="1703.2,891.6 1687.7,883.6 1696.3,876.6" fill="#000"/>
<path d="M1824.3,941.8 L1799,915" stroke="#111" stroke-width="1.1"/>
<polygon points="1790.8,908.2 1799,922.2 1804.7,916.5" fill="#000"/>
<rect x="1687.0" y="985.0" width="320.4000000000001" height="319.79999999999995" fill="#fff" stroke="#1c1c40" stroke-width="2"/>
<path d="M1698.8,1304.8 v-4 M1698.8,985.0 v4 M1709.3,1304.8 v-8 M1709.3,985.0 v8 M1778.1,1304.8 v-4 M1778.1,985.0 v4 M1818.4,1304.8 v-4 M1818.4,985.0 v4 M1846.9,1304.8 v-4 M1846.9,985.0 v4 M1869.1,1304.8 v-4 M1869.1,985.0 v4 M1887.2,1304.8 v-4 M1887.2,985.0 v4 M1902.5,1304.8 v-4 M1902.5,985.0 v4 M1915.7,1304.8 v-4 M1915.7,985.0 v4 M1927.4,1304.8 v-4 M1927.4,985.0 v4 M1937.9,1304.8 v-8 M1937.9,985.0 v8 M1687.0,1276.1 h4 M2007.4,1276.1 h-4 M1687.0,1250.6 h8 M2007.4,1250.6 h-8 M1687.0,1082.9 h8 M2007.4,1082.9 h-8" stroke="#1c1c40" stroke-width="1.4" fill="none"/>
<circle cx="1709.3" cy="1241.1" r="6.2" fill="#2f4aa8"/>
<circle cx="1818.4" cy="1180.5" r="6.2" fill="#2f4aa8"/>
<circle cx="1869.1" cy="1162.2" r="6.2" fill="#2f4aa8"/>
<circle cx="1937.9" cy="1098.6" r="6.2" fill="#2f4aa8"/>
<circle cx="1978.2" cy="1064.2" r="6.2" fill="#2f4aa8"/>
<circle cx="1709.3" cy="1229.3" r="6.2" fill="#f7931e"/>
<circle cx="1818.4" cy="1160.4" r="6.2" fill="#f7931e"/>
<circle cx="1869.1" cy="1140.8" r="6.2" fill="#f7931e"/>
<circle cx="1937.9" cy="1082.1" r="6.2" fill="#f7931e"/>
<circle cx="1978.2" cy="1058.3" r="6.2" fill="#f7931e"/>
<polygon points="1848.3,1200.8 1975.4,1200.8 1975.4,1119.9" fill="none" stroke="#000" stroke-width="2"/>
<text x="1982.5" y="1174" font-size="27" text-anchor="start" font-weight="normal" font-style="normal" fill="#000" >1</text>
<text x="1904" y="1242" font-size="27" text-anchor="start" font-weight="normal" font-style="normal" fill="#000" >4</text>
<text x="1679" y="991.1" font-size="17.5" text-anchor="end" font-weight="normal" font-style="normal" fill="#000" >3</text>
<text x="1679" y="1089.2" font-size="17.5" text-anchor="end" font-weight="normal" font-style="normal" fill="#000" >2</text>
<text x="1679" y="1256.9" font-size="17.5" text-anchor="end" font-weight="normal" font-style="normal" fill="#000" >1</text>
<text x="1679" y="1282.4" font-size="17.5" text-anchor="end" font-weight="normal" font-style="normal" fill="#000" >0.9</text>
<text x="1679" y="1310.9" font-size="17.5" text-anchor="end" font-weight="normal" font-style="normal" fill="#000" >0.8</text>
<text x="1709.3" y="1324" font-size="17.5" text-anchor="middle" font-weight="normal" font-style="normal" fill="#000" >1</text>
<text x="1937.9" y="1324" font-size="17.5" text-anchor="middle" font-weight="normal" font-style="normal" fill="#000" >10</text>
<text x="1810" y="1339.6" font-size="24"><tspan font-style="italic">t</tspan> (min)</text>
<text transform="translate(1652.8,1188) rotate(-90)" font-size="24"><tspan font-style="italic">W</tspan> (mm)</text>
</svg>
</body></html>
